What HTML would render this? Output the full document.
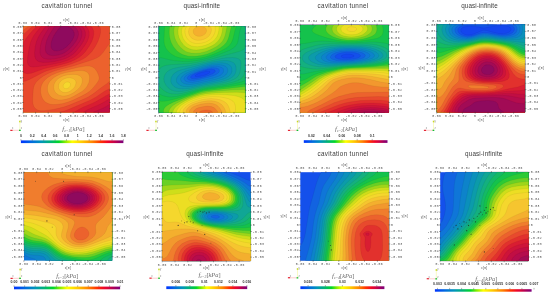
<!DOCTYPE html>
<html><head><meta charset="utf-8"><title>contour plots</title>
<style>
html,body{margin:0;padding:0;background:#fff}
body{width:550px;height:295px;overflow:hidden}
svg{display:block}
text{font-family:"Liberation Sans",sans-serif}
.ti{font-size:6.3px;fill:#3a3a3a}
.tk text{font-family:"Liberation Mono",monospace;font-size:3.1px;letter-spacing:.42px;fill:#4a4a4a}.tk .ax{font-size:2.7px;letter-spacing:0}
.tr text{font-size:2.6px;fill:#888}
.cl text{font-size:3.5px;fill:#333;font-weight:bold}
.lt{font-family:"Liberation Serif",serif;font-style:italic;font-size:6.4px;fill:#6e6e6e}
.sb{font-size:3.9px}.up{font-style:normal}
</style></head><body>
<svg width="550" height="295" viewBox="0 0 550 295">
<defs><linearGradient id="cb" x1="0" x2="1" y1="0" y2="0"><stop offset="0.000" stop-color="#0032ff"/><stop offset="0.100" stop-color="#0069e1"/><stop offset="0.200" stop-color="#0096b9"/><stop offset="0.300" stop-color="#00b969"/><stop offset="0.370" stop-color="#00d728"/><stop offset="0.430" stop-color="#82eb00"/><stop offset="0.500" stop-color="#ffff00"/><stop offset="0.600" stop-color="#ffc800"/><stop offset="0.700" stop-color="#ff8200"/><stop offset="0.780" stop-color="#ff3200"/><stop offset="0.850" stop-color="#ee052a"/><stop offset="0.890" stop-color="#d4053e"/><stop offset="0.930" stop-color="#b40055"/><stop offset="0.960" stop-color="#980064"/><stop offset="1.000" stop-color="#7d007d"/></linearGradient></defs>
<rect width="550" height="295" fill="#fff"/>
<g transform="translate(23.2 26.5) scale(.1)" stroke="#000" stroke-opacity=".16" stroke-width="3" stroke-linejoin="round">
<rect width="863" height="858" fill="#f5d72d" stroke="none"/>
<path d="M0 0l863 0 0 858-863 0zM450 555l-12 0-13 3-17 14-7 12-1 13 4 12 9 8 12 5 13-1 12-5 9-7 10-12 4-13-1-12-9-12z" fill="#f6c52f"/>
<path d="M0 0l863 0 0 858-863 0zM500 521l-25-7-12-1-25 2-25 7-25 14-13 11-10 13-6 12-4 12 0 25 3 13 7 12 10 11 13 8 12 5 25 2 13-2 25-8 24-16 24-25 7-12 9-25 1-12-3-14-6-11z" fill="#f4af2e"/>
<path d="M0 0l863 0 0 858-863 0zM575 501l-12-9-25-10-25-3-25 0-38 4-25 4-31 10-26 13-19 12-14 13-11 12-13 25-4 12-2 25 4 25 6 13 8 12 12 12 15 11 13 6 25 6 25 1 25-4 25-8 25-12 25-15 27-22 25-25 16-25 8-24 2-25-3-14-5-11z" fill="#f2982e"/>
<path d="M0 0l863 0 0 858-863 0zM653 473l-15-17-13-7-12-4-25-4-38 1-62 7-63 12-50 15-37 16-30 18-29 25-11 12-16 25-8 25-2 25 2 25 9 24 16 25 19 17 25 13 37 8 38 0 37-6 38-11 37-16 53-30 39-24 28-25 19-25 18-37 7-38-1-25-3-12z" fill="#f07d2d"/>
<path d="M0 8l11-8 852 0 0 858-863 0zM736 448l-11-16-12-14-13-9-12-6-25-7-38 0-75 12-162 39-50 16-51 22-41 25-29 25-20 25-13 24-4 13-5 25 0 37 7 37 11 25 18 25 14 12 25 13 25 7 25 2 25 0 63-8 62-17 50-19 84-40 47-25 34-24 26-25 42-50 17-25 6-12 3-13 0-12-6-25z" fill="#ec622d"/>
<path d="M0 40l49-40 814 0 0 173-25 29-40 59-22 25-14 12-19 13-43 19-200 64-156 41-40 13-61 25-44 24-34 25-27 25-11 13-15 24-8 25-4 25-6 100 3 37 7 25 7 12 11 13 16 11 12 6 25 5 38-1 87-13 63-13 50-13 62-22 138-58 37-18 54-34 71-56 61-43 27-23 0 309-863 0z" fill="#e84a2d"/>
<path d="M0 551l0-468 90-83 676 0 7 25 0 37-8 37-18 50-26 50-34 50-34 37-31 25-20 12-39 20-77 30-61 19-137 35-64 21-36 16-125 65-38 16zM863 622l0 236-503 0 53-14 50-18 212-92 50-27 88-59z" fill="#e2312d"/>
<path d="M0 457l0-294 35-51 28-37 34-38 38-37 545 0 11 12 11 25 3 13 1 25-7 37-13 37-28 50-35 50-34 37-32 25-45 25-37 16-37 13-63 17-162 39-125 44-25 6-25 1-25-7zM863 674l0 184-354 0 41-25 48-25 102-44 37-18 88-52z" fill="#d91d32"/>
<path d="M50 383l-7-22 2-50 13-87 15-62 15-38 21-37 28-37 43-50 449 0 19 25 9 25 2 12 0 25-5 25-14 37-22 38-46 62-36 37-35 25-51 24-50 18-75 18-87 16-100 15-38 3-25-3-11-4zM863 725l0 133-261 0 41-25 132-59z" fill="#ce143a"/>
<path d="M124 323l-8-25-2-37 7-62 12-50 16-37 13-25 16-25 46-62 365 0 20 25 10 25 3 12 0 25-5 25-16 37-26 40-48 60-27 26-33 23-42 21-50 17-62 14-63 8-50 1-37-6-14-5-11-8zM863 779l0 79-162 0 99-42 25-13z" fill="#c10e44"/>
<path d="M174 286l-6-25 0-25 6-49 10-38 9-25 19-37 55-87 284 0 13 12 10 13 11 25 3 25-3 24-14 38-24 37-40 50-23 25-34 26-37 20-43 16-45 10-50 6-37-1-25-5-13-6-12-9-7-8z" fill="#b50c4d"/>
<path d="M509 0l15 12 12 13 13 25 4 25-3 20-10 29-14 25-28 38-34 37-26 22-25 16-26 12-37 11-37 6-25 0-26-5-22-12-10-13-5-12-3-13 0-37 7-37 7-25 17-38 21-37 39-62z" fill="#a20b55"/>
<path d="M475 16l13 10 12 16 9 20 2 13-1 12-7 25-13 25-18 25-22 25-25 22-22 15-15 8-25 9-25 4-25-3-14-6-12-12-6-13-3-12 0-25 5-25 9-25 18-37 16-25 24-33 16-17 17-12 63 0z" fill="#8f0a5e"/>
</g>
<path d="M22.0 26.7h1.8M109.1 26.7h1.8M22.0 33.2h1.8M109.1 33.2h1.8M22.0 39.6h1.8M109.1 39.6h1.8M22.0 46.0h1.8M109.1 46.0h1.8M22.0 52.4h1.8M109.1 52.4h1.8M22.0 58.8h1.8M109.1 58.8h1.8M22.0 65.1h1.8M109.1 65.1h1.8M22.0 71.4h1.8M109.1 71.4h1.8M22.0 77.7h1.8M109.1 77.7h1.8M22.0 83.9h1.8M109.1 83.9h1.8M22.0 90.1h1.8M109.1 90.1h1.8M22.0 96.3h1.8M109.1 96.3h1.8M22.0 102.5h1.8M109.1 102.5h1.8M22.0 108.6h1.8M109.1 108.6h1.8M23.1 25.3v1.8M23.1 111.9v1.8M35.6 25.3v1.8M35.6 111.9v1.8M48.2 25.3v1.8M48.2 111.9v1.8M60.7 25.3v1.8M60.7 111.9v1.8M73.2 25.3v1.8M73.2 111.9v1.8M85.8 25.3v1.8M85.8 111.9v1.8M98.3 25.3v1.8M98.3 111.9v1.8" stroke="#333" stroke-width="0.4" fill="none"/>
<g class="tk"><text x="22.0" y="27.7" text-anchor="end">0.08</text><text x="111.7" y="27.7">0.08</text><text x="22.0" y="34.2" text-anchor="end">0.07</text><text x="111.7" y="34.2">0.07</text><text x="22.0" y="40.6" text-anchor="end">0.06</text><text x="111.7" y="40.6">0.06</text><text x="22.0" y="47.0" text-anchor="end">0.05</text><text x="111.7" y="47.0">0.05</text><text x="22.0" y="53.4" text-anchor="end">0.04</text><text x="111.7" y="53.4">0.04</text><text x="22.0" y="59.8" text-anchor="end">0.03</text><text x="111.7" y="59.8">0.03</text><text x="22.0" y="66.1" text-anchor="end">0.02</text><text x="111.7" y="66.1">0.02</text><text x="22.0" y="72.4" text-anchor="end">0.01</text><text x="111.7" y="72.4">0.01</text><text x="22.0" y="78.7" text-anchor="end">0</text><text x="111.7" y="78.7">0</text><text x="22.0" y="84.9" text-anchor="end">-0.01</text><text x="111.7" y="84.9">-0.01</text><text x="22.0" y="91.1" text-anchor="end">-0.02</text><text x="111.7" y="91.1">-0.02</text><text x="22.0" y="97.3" text-anchor="end">-0.03</text><text x="111.7" y="97.3">-0.03</text><text x="22.0" y="103.5" text-anchor="end">-0.04</text><text x="111.7" y="103.5">-0.04</text><text x="22.0" y="109.6" text-anchor="end">-0.05</text><text x="111.7" y="109.6">-0.05</text><text x="23.1" y="23.7" text-anchor="middle">0.06</text><text x="23.1" y="116.9" text-anchor="middle">0.06</text><text x="35.6" y="23.7" text-anchor="middle">0.04</text><text x="35.6" y="116.9" text-anchor="middle">0.04</text><text x="48.2" y="23.7" text-anchor="middle">0.02</text><text x="48.2" y="116.9" text-anchor="middle">0.02</text><text x="60.7" y="23.7" text-anchor="middle">0</text><text x="60.7" y="116.9" text-anchor="middle">0</text><text x="73.2" y="23.7" text-anchor="middle">-0.02</text><text x="73.2" y="116.9" text-anchor="middle">-0.02</text><text x="85.8" y="23.7" text-anchor="middle">-0.04</text><text x="85.8" y="116.9" text-anchor="middle">-0.04</text><text x="98.3" y="23.7" text-anchor="middle">-0.06</text><text x="98.3" y="116.9" text-anchor="middle">-0.06</text><text x="66.3" y="20.6" text-anchor="middle" class="ax">x[m]</text><text x="66.3" y="120.7" text-anchor="middle" class="ax">x[m]</text><text x="9.5" y="70.3" text-anchor="end" class="ax">y[m]</text><text x="125.0" y="70.3" class="ax">y[m]</text></g>
<text class="ti" x="41.5" y="8.4" textLength="51.0" lengthAdjust="spacing">cavitation tunnel</text>
<g><path d="M19.9 130.3h-8" stroke="#ff9a9a" stroke-width="0.5"/><path d="M19.9 130.3v-8.5" stroke="#f4f48a" stroke-width="0.5"/>
<rect x="10.3" y="129.8" width="2.2" height="1.1" fill="#e01020"/>
<rect x="19.1" y="120.7" width="1.5" height="1.6" fill="#c8d820"/>
<rect x="19.0" y="129.7" width="1.7" height="1.3" fill="#10c030"/>
<g class="tr"><text x="12.1" y="129.4">x</text><text x="20.8" y="121.7">y</text><text x="20.8" y="129.1">z</text></g></g>
<rect x="20.9" y="140.4" width="102.5" height="2.7" fill="url(#cb)"/>
<path d="M20.9 139.1v1.6M32.3 139.1v1.6M43.7 139.1v1.6M55.1 139.1v1.6M66.5 139.1v1.6M77.8 139.1v1.6M89.2 139.1v1.6M100.6 139.1v1.6M112.0 139.1v1.6M123.4 139.1v1.6" stroke="#444" stroke-width="0.4" fill="none"/>
<g class="cl"><text x="20.9" y="136.6" text-anchor="middle">0</text><text x="32.3" y="136.6" text-anchor="middle">0.2</text><text x="43.7" y="136.6" text-anchor="middle">0.4</text><text x="55.1" y="136.6" text-anchor="middle">0.6</text><text x="66.5" y="136.6" text-anchor="middle">0.8</text><text x="77.8" y="136.6" text-anchor="middle">1</text><text x="89.2" y="136.6" text-anchor="middle">1.2</text><text x="100.6" y="136.6" text-anchor="middle">1.4</text><text x="112.0" y="136.6" text-anchor="middle">1.6</text><text x="123.4" y="136.6" text-anchor="middle">1.8</text></g>
<text class="lt" x="73.4" y="131.2" text-anchor="middle"><tspan font-size="6.9">f</tspan><tspan class="sb" dy="1.2">z=1</tspan><tspan dy="-1.2" class="up">[</tspan>kPa<tspan class="up">]</tspan></text>
<g transform="translate(158.9 26.5) scale(.1)" stroke="#000" stroke-opacity=".16" stroke-width="3" stroke-linejoin="round">
<rect width="863" height="859" fill="#1446ee" stroke="none"/>
<path d="M0 0l863 0 0 859-863 0zM508 448l-8-1-25 0-55 14-32 12-21 13-6 12 14 3 25-1 60-14 31-13 19-12z" fill="#1450eb"/>
<path d="M0 0l863 0 0 859-863 0zM560 436l-10-5-25-3-37 3-38 9-50 16-43 17-22 13-15 12-3 12 8 7 13 4 25 0 37-5 50-12 50-16 36-15 19-12 9-13z" fill="#1263e1"/>
<path d="M0 0l863 0 0 859-863 0zM605 436l-9-13-21-8-25-3-25 1-25 4-50 12-87 30-50 24-21 15-8 12 0 13 16 11 13 4 37 1 50-8 100-25 50-16 33-17 14-12 7-13z" fill="#0f76d8"/>
<path d="M0 0l863 0 0 859-863 0zM647 436l-5-13-12-12-30-11-25-3-25 0-50 7-37 10-50 15-63 22-37 16-33 19-16 12-9 12-4 13 4 12 8 8 12 7 25 7 38 2 62-11 138-32 56-18 23-12 15-13 9-12 5-13z" fill="#0d83ca"/>
<path d="M0 0l863 0 0 859-863 0zM686 423l-7-12-13-13-16-7-25-7-25-3-37 1-38 4-37 8-38 10-75 24-62 23-38 16-25 16-17 15-10 12-5 13-1 12 8 16 10 9 15 9 25 8 38 4 50-7 187-41 39-10 36-13 24-12 17-12 11-13 7-12 4-13 1-12z" fill="#0b90bb"/>
<path d="M0 0l863 0 0 859-863 0zM729 423l-3-12-7-13-12-12-19-11-25-8-38-4-37 1-38 3-50 10-62 16-137 43-37 12-27 13-24 15-23 22-8 12-5 13-2 12 1 13 5 12 10 13 22 15 12 5 25 7 38 2 50-6 112-26 125-26 38-9 39-12 27-13 18-12 14-12 9-13 6-12 3-13z" fill="#0c9baa"/>
<path d="M0 0l863 0 0 859-863 0zM769 398l-5-12-7-13-13-12-26-12-30-7-38-1-50 4-62 9-50 11-250 64-25 8-27 11-23 14-14 11-11 13-14 24-4 25 0 13 3 12 6 13 8 12 13 13 13 9 12 6 25 8 38 3 37-2 38-5 137-33 175-34 50-14 25-10 28-16 15-12 11-12 13-25 5-25-1-25z" fill="#10a695"/>
<path d="M0 0l863 0 0 859-863 0zM818 349l-6-13-12-10-25-10-37-5-63 2-50 8-87 18-213 49-125 20-37 8-27 7-28 13-19 12-14 13-12 17-9 20-4 25 3 25 4 12 13 25 21 25 14 12 21 13 24 9 25 4 25 1 38-2 50-9 150-38 175-32 62-13 50-16 35-16 18-13 13-12 8-12 11-25 4-25 7-63z" fill="#14b07f"/>
<path d="M0 430l0-430 863 0 0 50-2 25 2 32 0 107-10 10-20 13-29 12-40 12-101 26-130 37-145 33-50 9-50 7-163 8-50 7-25 7-25 12-12 9zM863 430l0 429-863 0 0-269 16 20 27 25 32 21 25 10 25 7 38 2 25-1 37-5 75-18 138-39 234-39 53-13 41-12 30-13 22-12 20-18 12-19 4-13z" fill="#14b965"/>
<path d="M0 310l0-248 5-37 0-25 822 0-12 25-7 25-17 99-9 25-18 25-26 21-29 17-121 49-76 25-74 19-75 13-63 6-62 0-75-6-50-9-88-21zM863 541l0 318-863 0 0-186 38 18 37 10 25 3 25 0 50-5 63-15 150-46 50-13 50-9 150-22 75-13 91-21z" fill="#14c24c"/>
<path d="M57 187l-5-25-1-38 5-124 719 0-14 37-17 75-8 25-11 25-18 25-30 25-19 12-47 25-73 32-75 24-63 13-75 7-62-3-63-11-34-12-16-8-27-17-28-25-20-25-7-12zM863 574l0 285-863 0 0-116 25 5 25-1 38-5 50-11 75-21 187-63 50-12 50-8 200-26z" fill="#2cca35"/>
<path d="M109 112l-4-25-2-37 5-50 618 0-8 25-18 75-8 24-12 25-8 13-23 25-36 27-64 35-63 25-61 16-62 8-50-1-25-3-32-8-18-6-25-13-25-18-14-12-30-38-20-37-9-25zM863 601l0 258-816 0-1-12 1-13 5-12 9-13 12-12 27-18 38-20 124-49 126-45 50-14 50-9z" fill="#6ad025"/>
<path d="M153 87l-3-25-1-25 7-37 525 0-15 75-12 37-13 25-8 12-20 23-35 27-53 29-52 21-60 15-50 4-38-2-37-9-19-8-19-11-31-26-31-38-20-37-10-25zM863 629l0 230-764 0 1-12 4-13 7-12 9-13 18-16 31-21 48-25 58-27 59-23 75-25 54-12 75-10 187-15z" fill="#9ed61a"/>
<path d="M192 75l-1-38 4-25 5-12 439 0-6 50-9 37-18 37-19 25-28 25-21 14-25 13-50 19-50 11-38 4-37-3-38-11-25-13-25-21-12-14-18-24-18-37zM863 664l0 195-723 0 2-12 4-13 7-12 23-25 35-25 43-25 46-22 50-19 66-21 47-11 37-5 138-9 137-2 49 2z" fill="#cede1a"/>
<path d="M227 62l0-25 2-12 10-25 362 0-1 37-9 38-10 25-18 26-25 24-38 23-37 15-38 9-37 5-38-2-25-6-12-5-24-15-26-25-17-25-11-24zM176 859l1-12 5-13 17-25 28-25 39-25 47-23 37-15 63-20 50-11 62-7 75-2 88 3 62 7 38 8 37 14 15 9 13 13 10 17 0 76-2 19 2 12z" fill="#ecde23"/>
<path d="M261 62l0-25 3-12 12-25 285 0 2 12 1 25-5 25-11 25-17 25-18 17-25 17-25 11-38 10-37 3-25-1-25-6-25-13-16-13-19-25-12-25zM209 859l1-12 4-13 17-25 28-25 29-18 38-19 62-22 50-13 50-8 50-3 62 2 46 7 49 12 28 13 17 12 11 12 7 13 7 25 2 62z" fill="#f5d72d"/>
<path d="M296 50l5-25 7-13 11-12 196 0 6 12 3 13 1 12-5 25-14 25-11 13-15 12-22 12-20 8-25 5-25 1-25-4-23-10-15-10-12-14-8-13-5-12zM715 859l-474 0 0-12 4-13 7-12 10-13 30-25 33-18 49-19 51-14 50-9 50-3 50 4 38 8 34 14 19 12 14 13 16 25 9 25z" fill="#f6c52f"/>
<path d="M343 50l1-13 6-11 13-12 12-7 26-7 29 0 20 6 13 6 10 13 3 12-1 13-5 12-9 13-11 8-12 8-25 7-25-1-24-10-14-13-5-12zM272 847l4-13 7-12 12-13 15-12 15-10 25-11 49-17 51-11 38-5 37 0 25 3 25 6 21 7 20 13 15 12 19 25 12 25 9 25-399 0z" fill="#f4af2e"/>
<path d="M305 859l1-12 4-13 10-12 15-13 22-12 31-11 37-10 38-6 37-3 38 4 25 8 12 6 16 12 12 12 17 25 12 25z" fill="#f2982e"/>
<path d="M591 859l-246 0 3-12 9-13 18-13 25-10 25-6 38-7 25-2 37 5 25 10 14 11 11 12z" fill="#f07d2d"/>
<path d="M402 859l11-9 12-6 25-7 25-2 25 2 13 4 12 6 14 12z" fill="#ec622d"/>
</g>
<path d="M157.7 26.7h1.8M244.8 26.7h1.8M157.7 33.2h1.8M244.8 33.2h1.8M157.7 39.6h1.8M244.8 39.6h1.8M157.7 46.1h1.8M244.8 46.1h1.8M157.7 52.5h1.8M244.8 52.5h1.8M157.7 58.8h1.8M244.8 58.8h1.8M157.7 65.2h1.8M244.8 65.2h1.8M157.7 71.5h1.8M244.8 71.5h1.8M157.7 77.7h1.8M244.8 77.7h1.8M157.7 84.0h1.8M244.8 84.0h1.8M157.7 90.2h1.8M244.8 90.2h1.8M157.7 96.4h1.8M244.8 96.4h1.8M157.7 102.6h1.8M244.8 102.6h1.8M157.7 108.7h1.8M244.8 108.7h1.8M158.8 25.3v1.8M158.8 112.0v1.8M171.3 25.3v1.8M171.3 112.0v1.8M183.9 25.3v1.8M183.9 112.0v1.8M196.4 25.3v1.8M196.4 112.0v1.8M208.9 25.3v1.8M208.9 112.0v1.8M221.5 25.3v1.8M221.5 112.0v1.8M234.0 25.3v1.8M234.0 112.0v1.8" stroke="#333" stroke-width="0.4" fill="none"/>
<g class="tk"><text x="157.7" y="27.7" text-anchor="end">0.08</text><text x="247.4" y="27.7">0.08</text><text x="157.7" y="34.2" text-anchor="end">0.07</text><text x="247.4" y="34.2">0.07</text><text x="157.7" y="40.6" text-anchor="end">0.06</text><text x="247.4" y="40.6">0.06</text><text x="157.7" y="47.1" text-anchor="end">0.05</text><text x="247.4" y="47.1">0.05</text><text x="157.7" y="53.5" text-anchor="end">0.04</text><text x="247.4" y="53.5">0.04</text><text x="157.7" y="59.8" text-anchor="end">0.03</text><text x="247.4" y="59.8">0.03</text><text x="157.7" y="66.2" text-anchor="end">0.02</text><text x="247.4" y="66.2">0.02</text><text x="157.7" y="72.5" text-anchor="end">0.01</text><text x="247.4" y="72.5">0.01</text><text x="157.7" y="78.7" text-anchor="end">0</text><text x="247.4" y="78.7">0</text><text x="157.7" y="85.0" text-anchor="end">-0.01</text><text x="247.4" y="85.0">-0.01</text><text x="157.7" y="91.2" text-anchor="end">-0.02</text><text x="247.4" y="91.2">-0.02</text><text x="157.7" y="97.4" text-anchor="end">-0.03</text><text x="247.4" y="97.4">-0.03</text><text x="157.7" y="103.6" text-anchor="end">-0.04</text><text x="247.4" y="103.6">-0.04</text><text x="157.7" y="109.7" text-anchor="end">-0.05</text><text x="247.4" y="109.7">-0.05</text><text x="158.8" y="23.7" text-anchor="middle">0.06</text><text x="158.8" y="117.0" text-anchor="middle">0.06</text><text x="171.3" y="23.7" text-anchor="middle">0.04</text><text x="171.3" y="117.0" text-anchor="middle">0.04</text><text x="183.9" y="23.7" text-anchor="middle">0.02</text><text x="183.9" y="117.0" text-anchor="middle">0.02</text><text x="196.4" y="23.7" text-anchor="middle">0</text><text x="196.4" y="117.0" text-anchor="middle">0</text><text x="208.9" y="23.7" text-anchor="middle">-0.02</text><text x="208.9" y="117.0" text-anchor="middle">-0.02</text><text x="221.5" y="23.7" text-anchor="middle">-0.04</text><text x="221.5" y="117.0" text-anchor="middle">-0.04</text><text x="234.0" y="23.7" text-anchor="middle">-0.06</text><text x="234.0" y="117.0" text-anchor="middle">-0.06</text><text x="202.0" y="20.6" text-anchor="middle" class="ax">x[m]</text><text x="202.0" y="120.8" text-anchor="middle" class="ax">x[m]</text><text x="147.1" y="70.4" text-anchor="end" class="ax">y[m]</text><text x="259.3" y="70.4" class="ax">y[m]</text></g>
<text class="ti" x="183.6" y="8.2" textLength="36.4" lengthAdjust="spacing">quasi-infinite</text>
<g><path d="M156.0 130.3h-8" stroke="#ff9a9a" stroke-width="0.5"/><path d="M156.0 130.3v-8.5" stroke="#f4f48a" stroke-width="0.5"/>
<rect x="146.4" y="129.8" width="2.2" height="1.1" fill="#e01020"/>
<rect x="155.2" y="120.7" width="1.5" height="1.6" fill="#c8d820"/>
<rect x="155.2" y="129.7" width="1.7" height="1.3" fill="#10c030"/>
<g class="tr"><text x="148.2" y="129.4">x</text><text x="156.9" y="121.7">y</text><text x="156.9" y="129.1">z</text></g></g>
<g transform="translate(300.2 24.9) scale(.1)" stroke="#000" stroke-opacity=".16" stroke-width="3" stroke-linejoin="round">
<rect width="884" height="875" fill="#1446ee" stroke="none"/>
<path d="M0 0l884 0 0 875-884 0zM537 304l-25-8-12-3-39-1-25 6-20 6-8 13 15 9 11 4 27 1 35-1 41-13z" fill="#1450eb"/>
<path d="M0 0l884 0 0 875-884 0zM348 317l6 13 31 12 38 5 51 0 54-5 52-12 20-13 2-13-14-12-37-13-39-5-51 0-44 5-41 13-20 12z" fill="#1263e1"/>
<path d="M0 0l884 0 0 875-884 0zM303 317l1 13 14 12 28 10 13 3 38 4 64 0 64-4 71-13 36-12 16-13 3-13-9-12-27-15-26-7-25-5-39-5-64 0-60 6-47 13-27 13-16 12z" fill="#0f76d8"/>
<path d="M0 0l884 0 0 875-884 0zM259 330l8 12 21 13 19 6 26 6 64 3 83-2 97-10 25-4 46-12 31-12 15-13 4-13-8-12-17-13-30-13-28-7-38-7-39-4-51-1-39 1-38 4-38 6-33 8-34 13-22 13-15 12-8 13z" fill="#0d83ca"/>
<path d="M0 0l884 0 0 875-884 0zM211 330l5 12 15 13 27 13 24 6 25 4 39 3 102-3 116-8 88-15 46-13 28-12 14-13 3-13-6-12-15-13-24-13-45-14-38-8-51-6-64-2-52 0-51 5-38 5-33 8-41 12-28 13-20 13-15 12-9 13z" fill="#0b90bb"/>
<path d="M0 0l884 0 0 875-884 0zM151 330l5 12 12 13 21 13 34 12 33 8 26 3 64 1 205-12 64-8 51-8 40-9 41-13 24-12 12-13 3-13-5-12-12-13-19-13-29-12-42-13-51-9-51-5-65-2-64 0-51 3-51 7-51 10-39 11-38 16-37 20-16 12-11 13z" fill="#0c9baa"/>
<path d="M0 0l884 0 0 875-884 0zM83 330l4 12 10 13 18 14 39 17 25 8 39 7 38 4 51 0 270-20 64-7 65-10 54-13 34-13 21-12 10-13 3-13-4-12-9-13-16-13-23-12-20-9-51-15-52-9-51-5-77-2-89 0-64 4-65 7-51 10-51 15-51 20-42 22-16 12-10 13z" fill="#10a695"/>
<path d="M0 0l884 0 0 875-884 0zM21 330l2 12 3 8 11 18 17 12 36 18 38 11 39 7 38 4 51 0 64-5 116-12 179-13 77-9 51-9 64-16 32-14 17-12 8-13 3-13-2-12-6-13-11-13-18-12-24-13-24-10-26-8-39-9-51-8-51-3-115-1-116 1-77 5-64 9-64 15-64 20-51 22-25 18-10 12-3 8z" fill="#14b07f"/>
<path d="M0 0l884 0 0 251-26-17-25-12-26-9-51-14-39-6-64-4-166 1-180-1-76 4-39 6-38 8-103 29-25 9-26 15zM884 340l0 535-884 0 0-461 51 14 64 10 52 2 64-3 205-26 192-13 115-14 51-9 39-10 27-10z" fill="#14b965"/>
<path d="M0 0l884 0 0 191-51-11-77-8-64-1-137 7-81 0-64-2-141-12-51-2-64 4-103 19-51 4zM884 366l0 509-884 0 0-385 13 1 25-1 96-21 276-47 64-7 179-11 90-9 90-14z" fill="#14c24c"/>
<path d="M119 51l6-13 10-13 29-25 656 0 7 25 3 38-5 26-6 12-11 13-20 13-19 7-52 11-102 14-64 5-64 1-64-3-51-7-72-16-45-12-74-26-29-12-21-13-11-13zM884 386l0 489-884 0 0-315 13-1 25-8 26-12 64-36 51-20 77-20 116-25 38-7 51-7 192-11 103-8 77-9z" fill="#2cca35"/>
<path d="M256 38l3-13 6-12 10-13 482 0 6 13 4 25-3 25-8 18-5 8-14 12-22 13-33 13-54 13-64 9-52 3-51-2-51-6-38-10-39-14-35-19-16-12-12-13-9-13-4-12zM884 404l0 471-884 0 0-261 74-43 67-44 26-15 38-17 64-21 103-26 64-12 64-6 230-12z" fill="#6ad025"/>
<path d="M319 38l2-13 6-12 10-13 368 0 8 13 5 12 1 13-1 13-5 12-8 13-13 13-26 16-25 11-39 11-38 6-52 4-38-2-38-5-26-6-28-10-23-13-16-12-12-13-7-13-4-12zM884 423l0 452-884 0 0-225 101-67 72-50 32-19 45-19 57-19 77-21 64-12 77-6z" fill="#9ed61a"/>
<path d="M364 38l3-13 7-12 11-13 267 0 13 13 7 12 2 13-2 13-7 12-12 14-25 18-26 11-31 8-33 5-26 1-25-1-34-5-17-4-26-10-18-11-14-13-8-13-5-12zM884 442l0 433-884 0 0-198 102-67 90-66 51-30 48-19 42-14 77-20 51-9 51-5 65-2 230-5z" fill="#cede1a"/>
<path d="M408 38l3-13 10-12 21-13 143 0 26 13 12 12 4 13-2 13-8 12-14 13-26 13-26 7-39 3-38-4-23-6-23-13-13-13-6-12zM884 463l0 412-884 0 0-175 38-21 52-33 51-37 82-64 44-25 40-17 66-21 50-13 64-9 77-4 192-1 77 3z" fill="#ecde23"/>
<path d="M468 38l12-13 20-5 12-1 26 3 13 3 13 13-3 13-10 8-13 6-26 2-25-5-17-11zM884 487l0 388-884 0 0-153 49-25 53-32 60-44 76-63 40-25 26-13 55-20 66-18 49-8 50-5 91-1 141 5 77 6z" fill="#f5d72d"/>
<path d="M884 515l0 360-884 0 0-132 64-27 51-30 64-47 93-81 23-14 38-19 55-18 49-12 50-8 64-4 77 2 115 7 64 8z" fill="#f6c52f"/>
<path d="M884 547l0 328-884 0 0-109 38-12 39-15 32-16 32-19 38-27 37-30 78-76 18-13 21-12 26-10 52-16 61-13 53-5 52 0 76 5 64 8z" fill="#f4af2e"/>
<path d="M884 583l0 292-884 0 0-84 51-12 39-12 41-19 45-25 42-29 42-35 22-23 33-40 14-13 18-12 27-13 43-13 64-12 44-5 52 1 47 4 72 12 111 27z" fill="#f2982e"/>
<path d="M884 624l0 251-884 0 0-51 38-4 39-10 51-18 41-18 47-26 102-63 36-26 42-38 14-8 41-17 46-13 28-4 26-1 26 1 33 4 82 20 51 10 64 7z" fill="#f07d2d"/>
<path d="M884 671l0 204-814 0 12-13 20-13 108-50 110-56 64-26 77-22 64-13 52-6z" fill="#ec622d"/>
<path d="M884 720l0 155-750 0 45-25 167-74 64-21 64-16 77-12 77-5 154-5z" fill="#e84a2d"/>
<path d="M884 762l0 113-690 0 190-75 64-19 64-13 90-11 103-4 102 1z" fill="#e2312d"/>
<path d="M884 795l0 80-611 0 40-13 71-28 52-17 64-16 64-11 77-7 89-2 77 4z" fill="#d91d32"/>
<path d="M364 875l63-25 60-19 64-13 64-9 64-3 77 1 64 5 64 10 0 53z" fill="#ce143a"/>
<path d="M435 875l52-18 51-13 64-11 51-5 52-1 64 2 51 5 64 11 0 30z" fill="#c10e44"/>
<path d="M505 875l33-9 51-10 39-5 51-4 51 0 52 3 51 6 51 8 0 11z" fill="#b50c4d"/>
<path d="M591 875l62-8 64-2 65 2 65 8z" fill="#a20b55"/>
</g>
<path d="M299.0 25.1h1.8M388.2 25.1h1.8M299.0 31.7h1.8M388.2 31.7h1.8M299.0 38.3h1.8M388.2 38.3h1.8M299.0 44.8h1.8M388.2 44.8h1.8M299.0 51.3h1.8M388.2 51.3h1.8M299.0 57.8h1.8M388.2 57.8h1.8M299.0 64.3h1.8M388.2 64.3h1.8M299.0 70.7h1.8M388.2 70.7h1.8M299.0 77.1h1.8M388.2 77.1h1.8M299.0 83.5h1.8M388.2 83.5h1.8M299.0 89.8h1.8M388.2 89.8h1.8M299.0 96.1h1.8M388.2 96.1h1.8M299.0 102.4h1.8M388.2 102.4h1.8M299.0 108.6h1.8M388.2 108.6h1.8M300.1 23.7v1.8M300.1 112.0v1.8M312.9 23.7v1.8M312.9 112.0v1.8M325.8 23.7v1.8M325.8 112.0v1.8M338.6 23.7v1.8M338.6 112.0v1.8M351.4 23.7v1.8M351.4 112.0v1.8M364.3 23.7v1.8M364.3 112.0v1.8M377.1 23.7v1.8M377.1 112.0v1.8" stroke="#333" stroke-width="0.4" fill="none"/>
<g class="tk"><text x="299.0" y="26.1" text-anchor="end">0.08</text><text x="390.8" y="26.1">0.08</text><text x="299.0" y="32.7" text-anchor="end">0.07</text><text x="390.8" y="32.7">0.07</text><text x="299.0" y="39.3" text-anchor="end">0.06</text><text x="390.8" y="39.3">0.06</text><text x="299.0" y="45.8" text-anchor="end">0.05</text><text x="390.8" y="45.8">0.05</text><text x="299.0" y="52.3" text-anchor="end">0.04</text><text x="390.8" y="52.3">0.04</text><text x="299.0" y="58.8" text-anchor="end">0.03</text><text x="390.8" y="58.8">0.03</text><text x="299.0" y="65.3" text-anchor="end">0.02</text><text x="390.8" y="65.3">0.02</text><text x="299.0" y="71.7" text-anchor="end">0.01</text><text x="390.8" y="71.7">0.01</text><text x="299.0" y="78.1" text-anchor="end">0</text><text x="390.8" y="78.1">0</text><text x="299.0" y="84.5" text-anchor="end">-0.01</text><text x="390.8" y="84.5">-0.01</text><text x="299.0" y="90.8" text-anchor="end">-0.02</text><text x="390.8" y="90.8">-0.02</text><text x="299.0" y="97.1" text-anchor="end">-0.03</text><text x="390.8" y="97.1">-0.03</text><text x="299.0" y="103.4" text-anchor="end">-0.04</text><text x="390.8" y="103.4">-0.04</text><text x="299.0" y="109.6" text-anchor="end">-0.05</text><text x="390.8" y="109.6">-0.05</text><text x="300.1" y="22.1" text-anchor="middle">0.06</text><text x="300.1" y="117.0" text-anchor="middle">0.06</text><text x="312.9" y="22.1" text-anchor="middle">0.04</text><text x="312.9" y="117.0" text-anchor="middle">0.04</text><text x="325.8" y="22.1" text-anchor="middle">0.02</text><text x="325.8" y="117.0" text-anchor="middle">0.02</text><text x="338.6" y="22.1" text-anchor="middle">0</text><text x="338.6" y="117.0" text-anchor="middle">0</text><text x="351.4" y="22.1" text-anchor="middle">-0.02</text><text x="351.4" y="117.0" text-anchor="middle">-0.02</text><text x="364.3" y="22.1" text-anchor="middle">-0.04</text><text x="364.3" y="117.0" text-anchor="middle">-0.04</text><text x="377.1" y="22.1" text-anchor="middle">-0.06</text><text x="377.1" y="117.0" text-anchor="middle">-0.06</text><text x="344.2" y="19.0" text-anchor="middle" class="ax">x[m]</text><text x="344.2" y="120.8" text-anchor="middle" class="ax">x[m]</text><text x="287.1" y="69.6" text-anchor="end" class="ax">y[m]</text><text x="401.3" y="69.6" class="ax">y[m]</text></g>
<text class="ti" x="317.6" y="8.2" textLength="50.6" lengthAdjust="spacing">cavitation tunnel</text>
<g><path d="M297.5 130.3h-8" stroke="#ff9a9a" stroke-width="0.5"/><path d="M297.5 130.3v-8.5" stroke="#f4f48a" stroke-width="0.5"/>
<rect x="287.9" y="129.8" width="2.2" height="1.1" fill="#e01020"/>
<rect x="296.8" y="120.7" width="1.5" height="1.6" fill="#c8d820"/>
<rect x="296.6" y="129.7" width="1.7" height="1.3" fill="#10c030"/>
<g class="tr"><text x="289.7" y="129.4">x</text><text x="298.4" y="121.7">y</text><text x="298.4" y="129.1">z</text></g></g>
<rect x="303.8" y="140.2" width="83.7" height="2.7" fill="url(#cb)"/>
<path d="M311.4 138.9v1.6M326.7 138.9v1.6M341.9 138.9v1.6M357.2 138.9v1.6M372.2 138.9v1.6" stroke="#444" stroke-width="0.4" fill="none"/>
<g class="cl"><text x="311.4" y="137.0" text-anchor="middle">0.02</text><text x="326.7" y="137.0" text-anchor="middle">0.04</text><text x="341.9" y="137.0" text-anchor="middle">0.06</text><text x="357.2" y="137.0" text-anchor="middle">0.08</text><text x="372.2" y="137.0" text-anchor="middle">0.1</text></g>
<text class="lt" x="346.1" y="131.2" text-anchor="middle"><tspan font-size="6.9">f</tspan><tspan class="sb" dy="1.2">z=2</tspan><tspan dy="-1.2" class="up">[</tspan>kPa<tspan class="up">]</tspan></text>
<g transform="translate(436.9 24.6) scale(.1)" stroke="#000" stroke-opacity=".16" stroke-width="3" stroke-linejoin="round">
<rect width="881" height="877" fill="#1446ee" stroke="none"/>
<path d="M0 0l881 0 0 877-881 0zM742 51l-1-13-13-14-30-11-47-4-68 4-111 21-25-2-23-7-54-8-38-2-26 2-41 8-19 13-7 13 0 13 7 12 14 13 21 9 12 4 26 2 26-3 25-7 77-33 13-4 12-1 26 3 60 17 55 12 38 3 26-1 25-6 19-8 15-12z" fill="#1450eb"/>
<path d="M0 0l600 0-128 11-38 0-89-5-39 1-38 3-25 7-17 8-12 13-5 13 1 13 5 12 11 13 17 13 38 12 25 2 39-3 38-10 51-17 38-5 39 2 115 20 38 2 38-3 26-7 14-6 18-13 10-12 4-13 0-13-6-13-15-12-25-9-27-4 180 0 0 877-881 0z" fill="#1263e1"/>
<path d="M0 0l267 0-24 3-26 7-13 6-12 9-9 13-3 13 1 13 4 12 9 13 14 13 22 12 38 11 38 3 39-4 89-24 38-5 39 2 102 15 38 4 38 0 39-4 32-10 19-11 13-15 7-12 3-13 0-13-3-13-8-12-20-13 110 0 0 877-881 0z" fill="#0f76d8"/>
<path d="M0 0l198 0-26 13-13 12-7 13-2 13 1 13 4 12 7 13 12 13 16 12 27 13 38 9 39 3 51-5 89-22 38-5 51 3 90 12 51 5 51 0 38-5 27-8 23-12 12-13 8-13 4-12 3-26-2-13-4-12-10-13 67 0 0 877-881 0z" fill="#0d83ca"/>
<path d="M0 0l152 0-17 13-10 12-4 13-2 13 1 13 4 12 6 13 9 13 14 12 19 13 31 13 40 8 38 1 51-4 102-23 38-4 51 2 115 15 51 3 64-1 39-6 14-4 24-13 12-12 7-13 4-13 4-25-1-26-6-25 31 0 0 877-881 0z" fill="#0b90bb"/>
<path d="M0 0l110 0-12 13-7 12-4 13-1 13 5 25 13 26 11 12 13 12 22 14 29 11 38 7 38 2 51-3 39-5 89-21 38-3 51 2 166 18 64 3 51-1 26-3 25-8 17-12 9-18 0 768-881 0z" fill="#0c9baa"/>
<path d="M0 0l69 0-10 13-5 12-4 26 4 25 11 26 21 25 16 14 26 14 38 12 51 5 64-2 51-7 102-22 51-4 64 4 332 40 0 696-881 0z" fill="#10a695"/>
<path d="M0 0l22 0-7 13-5 12-3 26 2 25 4 13 13 25 23 26 15 13 25 14 39 13 25 5 26 2 51-2 89-12 115-24 38-3 39 0 89 10 153 22 53 13 75 25 0 661-881 0z" fill="#14b07f"/>
<path d="M0 161l38 22 39 14 38 6 38 2 51-4 51-7 192-38 38-2 51 3 128 16 77 15 49 15 65 31 26 9 0 634-881 0z" fill="#14b965"/>
<path d="M881 265l0 612-881 0 0-652 38 6 26 2 64-5 89-15 204-45 39-5 51 0 51 4 64 9 63 11 39 9 51 19 64 36 25 11z" fill="#14c24c"/>
<path d="M0 281l26 0 25-5 204-60 128-32 51-10 51-4 51 3 64 7 64 11 50 12 27 10 25 12 77 47 18 8 20 5 0 592-881 0z" fill="#2cca35"/>
<path d="M0 329l26-4 25-9 115-54 52-21 63-21 115-31 38-7 38-3 51 1 52 5 63 10 51 12 29 9 27 13 22 12 50 36 26 15 25 9 13 2 0 574-881 0z" fill="#6ad025"/>
<path d="M0 369l26-8 25-12 120-69 82-39 53-19 64-18 51-12 39-5 51 0 64 6 63 10 48 13 32 13 24 12 62 47 26 17 25 11 26 4 0 557-881 0z" fill="#9ed61a"/>
<path d="M0 405l64-33 120-80 59-32 40-19 33-12 80-23 38-8 38-3 39 0 38 3 51 7 51 11 38 12 26 13 26 16 51 41 28 20 23 11 12 4 26 4 0 540-881 0z" fill="#cede1a"/>
<path d="M881 353l0 524-881 0 0-439 77-46 100-74 58-38 48-26 29-13 34-12 50-14 38-8 38-4 39 0 38 3 77 13 35 10 28 11 25 14 18 13 60 50 25 18 17 8 21 7z" fill="#ecde23"/>
<path d="M0 470l51-32 38-27 100-81 53-38 39-23 25-13 52-21 38-11 38-8 26-3 38-2 51 4 38 5 40 9 38 12 26 13 19 13 74 63 33 23 26 11 12 3 26 3 0 507-881 0z" fill="#f5d72d"/>
<path d="M0 504l38-23 39-28 123-110 49-38 45-29 51-25 25-10 44-12 33-6 38-3 38 1 52 6 38 8 38 13 26 12 29 20 60 54 38 29 26 14 13 4 25 5 13 0 0 491-881 0z" fill="#f6c52f"/>
<path d="M0 548l51-32 38-31 97-104 55-51 51-38 44-25 29-13 39-13 30-6 38-5 39 0 51 5 38 7 37 12 27 13 25 16 26 22 51 49 38 28 13 7 26 10 25 4 13 1 0 473-881 0z" fill="#f4af2e"/>
<path d="M881 422l0 455-881 0 0-237 13 6 13 0 17-10 10-13 25-51 50-65 36-62 27-38 34-38 40-39 33-25 40-25 26-13 34-13 36-9 26-4 38-2 38 2 39 6 25 6 38 14 39 23 25 22 64 62 38 27 26 13 13 4 25 4z" fill="#f2982e"/>
<path d="M881 443l0 434-881 0 0-157 13 8 13 1 12-7 26-26 25-35 36-64 41-53 9-23 16-63 12-26 16-25 31-38 40-39 32-25 44-25 30-13 25-8 26-5 25-3 26-1 38 2 26 4 38 9 38 16 36 24 79 78 39 31 25 15 26 10 12 3z" fill="#f07d2d"/>
<path d="M881 468l0 409-881 0 4-13 34-40 13-19 37-68 61-101 17-21 35-30 12-13 5-13 2-12 0-64 3-25 8-26 14-25 30-38 39-39 34-25 35-19 26-11 25-7 51-7 26 0 38 4 26 5 25 8 31 14 33 23 30 28 59 63 39 33 25 15 26 10 12 3zM314 610l1 13 31 13 37 3 64 1 61-4 13-13-23-5-68-8-60-4-38 0z" fill="#ec622d"/>
<path d="M36 877l30-38 49-89 38-56 26-34 13-11 12-8 13-5 13-1 25 3 46 10 44 5 64 3 76 0 69-8 36-12 10-13-13-13-25-6-39-5-114-8-90-16-25-8-13-8-13-13-11-25-7-38 2-25 2-13 10-26 25-38 35-38 34-27 38-21 25-10 26-7 25-4 26-1 51 4 26 6 25 9 26 13 38 29 34 35 68 78 26 23 12 9 26 13 25 6 26 2 0 377z" fill="#e84a2d"/>
<path d="M66 877l23-33 30-56 24-38 23-30 26-27 12-11 13-8 13-6 25-4 192 4 51-1 51-4 26-4 42-11 30-12 17-13 2-13-21-13-58-8-127-6-64-8-38-9-22-7-25-12-13-13-9-13-5-13-6-25 1-25 2-13 9-26 23-38 22-25 35-30 39-22 38-12 25-5 26-1 25 1 26 3 26 7 25 10 19 11 19 13 39 38 40 50 49 74 26 28 12 9 26 10 25 4 26-1 0 334z" fill="#e2312d"/>
<path d="M306 445l9-26 23-38 23-25 32-26 28-15 39-11 38-4 38 2 39 10 36 18 27 21 26 27 30 41 19 39 11 38-1 25-4 13-10 13-7 4-25 11-26 6-64 5-76 1-51-3-51-7-26-6-32-11-19-13-12-13-8-13-7-25-1-13zM881 598l0 279-787 0 15-25 31-60 26-38 38-40 20-15 19-9 25-7 26-3 191-2 90-7 59-10 81-19 95-19 41-13z" fill="#d91d32"/>
<path d="M335 432l11-25 17-26 25-25 21-15 25-13 38-11 26-2 38 2 39 12 25 13 26 20 19 19 19 26 18 38 6 25-1 26-4 12-6 11-15 15-23 13-26 7-38 6-52 3-51-2-38-4-25-6-26-8-17-9-16-13-5-6-11-19-4-13-1-25zM881 652l0 225-760 0 32-69 13-21 19-24 19-20 26-22 25-14 21-8 30-6 26-2 140-2 77-4 153-18 141-7z" fill="#ce143a"/>
<path d="M356 445l9-26 14-25 17-19 23-19 28-14 25-8 26-3 25 1 26 5 26 10 25 16 21 18 20 26 13 25 6 26 0 12-2 13-4 13-7 12-12 13-22 13-26 9-38 6-38 2-39-1-26-3-25-7-18-6-21-13-13-13-8-12-5-13-2-13zM149 877l7-25 10-26 15-25 23-30 26-23 25-18 26-13 25-8 52-7 165-4 166-10 52 0 102 8 38 1 0 180z" fill="#c10e44"/>
<path d="M386 432l10-21 12-17 13-14 17-11 22-11 12-4 26-4 25 1 26 6 26 11 18 13 13 13 10 13 13 25 5 26-1 12-4 13-6 13-11 12-18 13-19 8-26 6-26 3-38 0-25-3-26-7-16-7-18-13-10-12-7-13-2-13-1-12zM178 877l3-25 10-26 13-21 14-17 30-25 33-22 25-12 26-7 26-4 38-3 204-6 64-1 51 4 115 21 51 7 0 137z" fill="#b50c4d"/>
<path d="M415 432l6-13 13-16 13-12 17-10 21-7 13-2 25 1 13 2 26 11 13 9 12 12 15 25 3 13 1 13-2 12-5 13-10 13-14 11-13 6-13 4-26 5-25 0-26-3-32-11-17-12-9-13-4-13-1-12zM210 864l1-12 4-13 7-13 21-24 17-14 38-25 25-13 35-11 25-4 153-6 51 0 39 3 35 5 28 8 103 37 51 8 38 1 0 80-38 0-31 6-600 0z" fill="#a20b55"/>
<path d="M447 445l6-13 7-9 12-11 13-7 13-3 25 0 17 5 18 12 9 13 5 13 0 13-4 12-6 9-13 11-13 6-13 3-25 0-20-3-22-13-8-13-3-12zM261 877l1-13 5-12 12-13 53-27 29-24 21-13 27-7 27-5 75-4 48 4 33 12 13 13 6 13 6 25 6 13 12 13 36 25z" fill="#8f0a5e"/>
</g>
<path d="M435.7 24.8h1.8M524.6 24.8h1.8M435.7 31.4h1.8M524.6 31.4h1.8M435.7 38.0h1.8M524.6 38.0h1.8M435.7 44.6h1.8M524.6 44.6h1.8M435.7 51.1h1.8M524.6 51.1h1.8M435.7 57.6h1.8M524.6 57.6h1.8M435.7 64.1h1.8M524.6 64.1h1.8M435.7 70.5h1.8M524.6 70.5h1.8M435.7 76.9h1.8M524.6 76.9h1.8M435.7 83.3h1.8M524.6 83.3h1.8M435.7 89.6h1.8M524.6 89.6h1.8M435.7 96.0h1.8M524.6 96.0h1.8M435.7 102.2h1.8M524.6 102.2h1.8M435.7 108.5h1.8M524.6 108.5h1.8M436.8 23.4v1.8M436.8 111.9v1.8M449.6 23.4v1.8M449.6 111.9v1.8M462.4 23.4v1.8M462.4 111.9v1.8M475.2 23.4v1.8M475.2 111.9v1.8M488.0 23.4v1.8M488.0 111.9v1.8M500.8 23.4v1.8M500.8 111.9v1.8M513.6 23.4v1.8M513.6 111.9v1.8" stroke="#333" stroke-width="0.4" fill="none"/>
<g class="tk"><text x="435.7" y="25.8" text-anchor="end">0.08</text><text x="527.2" y="25.8">0.08</text><text x="435.7" y="32.4" text-anchor="end">0.07</text><text x="527.2" y="32.4">0.07</text><text x="435.7" y="39.0" text-anchor="end">0.06</text><text x="527.2" y="39.0">0.06</text><text x="435.7" y="45.6" text-anchor="end">0.05</text><text x="527.2" y="45.6">0.05</text><text x="435.7" y="52.1" text-anchor="end">0.04</text><text x="527.2" y="52.1">0.04</text><text x="435.7" y="58.6" text-anchor="end">0.03</text><text x="527.2" y="58.6">0.03</text><text x="435.7" y="65.1" text-anchor="end">0.02</text><text x="527.2" y="65.1">0.02</text><text x="435.7" y="71.5" text-anchor="end">0.01</text><text x="527.2" y="71.5">0.01</text><text x="435.7" y="77.9" text-anchor="end">0</text><text x="527.2" y="77.9">0</text><text x="435.7" y="84.3" text-anchor="end">-0.01</text><text x="527.2" y="84.3">-0.01</text><text x="435.7" y="90.6" text-anchor="end">-0.02</text><text x="527.2" y="90.6">-0.02</text><text x="435.7" y="97.0" text-anchor="end">-0.03</text><text x="527.2" y="97.0">-0.03</text><text x="435.7" y="103.2" text-anchor="end">-0.04</text><text x="527.2" y="103.2">-0.04</text><text x="435.7" y="109.5" text-anchor="end">-0.05</text><text x="527.2" y="109.5">-0.05</text><text x="436.8" y="21.8" text-anchor="middle">0.06</text><text x="436.8" y="116.9" text-anchor="middle">0.06</text><text x="449.6" y="21.8" text-anchor="middle">0.04</text><text x="449.6" y="116.9" text-anchor="middle">0.04</text><text x="462.4" y="21.8" text-anchor="middle">0.02</text><text x="462.4" y="116.9" text-anchor="middle">0.02</text><text x="475.2" y="21.8" text-anchor="middle">0</text><text x="475.2" y="116.9" text-anchor="middle">0</text><text x="488.0" y="21.8" text-anchor="middle">-0.02</text><text x="488.0" y="116.9" text-anchor="middle">-0.02</text><text x="500.8" y="21.8" text-anchor="middle">-0.04</text><text x="500.8" y="116.9" text-anchor="middle">-0.04</text><text x="513.6" y="21.8" text-anchor="middle">-0.06</text><text x="513.6" y="116.9" text-anchor="middle">-0.06</text><text x="480.8" y="18.7" text-anchor="middle" class="ax">x[m]</text><text x="480.8" y="120.7" text-anchor="middle" class="ax">x[m]</text><text x="424.9" y="69.4" text-anchor="end" class="ax">y[m]</text><text x="537.7" y="69.4" class="ax">y[m]</text></g>
<text class="ti" x="461.2" y="8.2" textLength="36.5" lengthAdjust="spacing">quasi-infinite</text>
<g><path d="M433.5 130.3h-8" stroke="#ff9a9a" stroke-width="0.5"/><path d="M433.5 130.3v-8.5" stroke="#f4f48a" stroke-width="0.5"/>
<rect x="423.9" y="129.8" width="2.2" height="1.1" fill="#e01020"/>
<rect x="432.8" y="120.7" width="1.5" height="1.6" fill="#c8d820"/>
<rect x="432.6" y="129.7" width="1.7" height="1.3" fill="#10c030"/>
<g class="tr"><text x="425.7" y="129.4">x</text><text x="434.4" y="121.7">y</text><text x="434.4" y="129.1">z</text></g></g>
<g transform="translate(24.0 172.5) scale(.1)" stroke="#000" stroke-opacity=".16" stroke-width="3" stroke-linejoin="round">
<rect width="881" height="880" fill="#0f76d8" stroke="none"/>
<path d="M0 0l881 0 0 880-758 0-12-13-60-18-25-12-26-19z" fill="#0d83ca"/>
<path d="M0 0l881 0 0 880-667 0 2-13-7-13-14-12-16-7-26-6-64-4-25-3-26-8-12-5-26-17z" fill="#0b90bb"/>
<path d="M0 0l881 0 0 880-611 0-16-26-11-12-14-13-25-15-12-5-26-6-77-3-25-3-38-11-26-16z" fill="#0c9baa"/>
<path d="M0 0l881 0 0 880-561 0-26-19-51-48-13-10-26-12-38-9-77-3-25-3-26-6-12-5-26-15z" fill="#10a695"/>
<path d="M0 0l881 0 0 880-504 0-32-11-25-15-77-63-26-15-25-8-26-5-77-4-25-3-38-11-26-14z" fill="#14b07f"/>
<path d="M0 0l881 0 0 842-26 13-15 12-8 13-392 0-57-15-38-17-26-16-64-52-23-15-15-7-25-8-26-5-77-5-25-3-38-12-26-13z" fill="#14b965"/>
<path d="M0 0l881 0 0 816-38 13-28 13-22 12-17 13-13 13-256 0-86-20-25-8-27-10-37-21-77-60-38-21-25-8-26-4-77-7-25-4-38-12-26-13z" fill="#14c24c"/>
<path d="M0 0l881 0 0 795-34 8-30 10-102 45-38 12-26 4-25 2-64-5-115-20-38-11-26-9-38-21-90-67-38-21-38-10-90-11-25-5-26-7-38-19z" fill="#2cca35"/>
<path d="M0 0l881 0 0 776-62 15-117 43-51 13-38 4-38 0-39-3-51-6-64-14-25-9-26-12-38-24-77-59-38-20-38-11-90-14-25-6-27-10-37-20z" fill="#6ad025"/>
<path d="M0 0l881 0 0 757-64 14-128 43-51 12-38 4-38 1-51-2-39-5-51-13-47-20-39-26-80-60-38-21-38-12-77-17-25-7-26-10-51-29z" fill="#9ed61a"/>
<path d="M0 0l881 0 0 738-64 14-128 41-63 15-39 5-38 1-38-2-39-5-51-13-25-11-26-14-38-26-64-51-38-25-26-12-85-30-30-13-63-34-26-11z" fill="#cede1a"/>
<path d="M0 0l881 0 0 719-77 17-127 41-51 12-39 6-38 1-38-1-39-5-25-7-26-8-44-23-37-25-97-82-26-18-119-66-26-13-35-12-37-10z" fill="#ecde23"/>
<path d="M0 0l881 0 0 698-77 18-127 42-64 15-38 5-39 1-38-3-26-5-25-7-29-12-24-12-38-26-29-25-25-26-59-77-13-12-26-18-41-20-61-24-51-14-51-8z" fill="#f5d72d"/>
<path d="M0 0l881 0 0 672-89 26-128 44-51 13-38 5-39 1-25-2-34-7-43-15-38-22-32-26-23-26-8-13-10-25-3-26 1-38-2-13-6-12-14-13-31-14-152-37-65-12-51-6z" fill="#f6c52f"/>
<path d="M0 0l881 0 0 632-68 31-131 51-56 19-34 7-30 3-39-2-25-4-31-10-33-18-27-20-22-26-7-13-3-12-1-13 4-26 11-38 1-25-4-13-6-13-11-13-16-12-34-17-38-10-166-29-115-11z" fill="#f4af2e"/>
<path d="M0 0l362 0 21 11 26 9 51 11 76 9 102 3 39 3 64 12 102 32 25 2 13-4 0 399-22 23-19 26-7 12-14 39-15 25-28 26-41 25-51 26-46 19-25 8-38 6-39 0-25-4-26-9-14-8-18-12-13-13-9-13-6-13-2-12 2-26 18-64 1-25-2-13-6-13-11-12-15-13-40-22-38-15-128-33-51-11-38-5-115-10z" fill="#f2982e"/>
<path d="M0 0l238 0 10 26 11 12 22 13 13 3 25 4 51 4 243 11 64 8 51 16 38 16 51 27 38 27 13 12 13 16 0 126-20 36-37 51-32 36-56 53-10 13-7 13-3 13-1 12 3 39 0 12-3 13-6 13-9 13-12 12-16 13-20 13-27 13-25 8-25 5-26 0-26-5-12-5-26-16-11-13-6-13-4-12 0-13 5-26 33-76 4-13 0-13-4-12-12-13-22-13-61-25-139-48-115-45-51-12-76-9-26-5z" fill="#f07d2d"/>
<path d="M176 242l5-25 6-13 20-25 32-26 29-18 26-12 38-14 51-11 51-6 77-1 76 3 51 5 51 12 52 21 25 14 26 18 29 27 17 26 7 25 1 13-1 13-7 25-13 26-18 25-15 18-39 34-38 24-38 16-39 8-38 2-64-7-76-15-77-22-51-18-38-16-44-24-18-12-28-26-18-25-5-13zM613 554l13 10 9 10 8 13 5 12 2 13-2 13-6 13-10 12-19 14-26 10-12 2-26 0-13-4-15-9-12-13-5-12-1-13 1-13 5-13 14-24 13-12 13-9 13-5 13-3 12 0 13 3z" fill="#ec622d"/>
<path d="M239 255l4-25 13-26 25-28 38-27 39-17 38-12 51-8 64-3 64 1 51 6 51 12 38 16 37 22 29 25 18 26 9 25 1 13-1 13-8 25-16 26-22 25-34 28-26 15-38 15-38 8-51 4-52-2-63-9-64-17-64-24-34-18-18-12-14-13-18-26-8-25z" fill="#e84a2d"/>
<path d="M276 255l6-25 14-26 26-25 36-23 38-15 38-10 38-5 51-3 52 2 51 7 38 10 38 17 31 20 27 25 14 26 4 25-4 26-13 25-23 26-36 27-25 13-39 13-38 7-51 3-51-3-51-9-51-14-51-22-26-15-16-13-11-13-8-13-5-12z" fill="#e2312d"/>
<path d="M305 255l7-25 17-26 16-15 25-17 26-13 38-12 38-7 51-3 52 2 38 5 38 10 28 12 23 13 17 12 12 13 10 13 6 13 4 12 1 13-5 26-15 25-17 18-26 19-26 14-37 13-39 7-38 2-51-2-38-6-51-14-39-16-25-15-22-20-9-13-6-12-2-13z" fill="#d91d32"/>
<path d="M331 255l3-13 5-12 8-13 23-23 26-16 28-12 36-10 38-5 38-2 39 3 38 6 28 8 29 13 20 12 15 13 11 13 7 13 4 12 1 13-1 13-4 13-8 13-9 12-14 13-28 19-26 11-38 11-25 4-39 2-38-3-38-6-39-11-33-14-30-21-16-18-7-12-3-13z" fill="#ce143a"/>
<path d="M356 255l3-13 5-12 9-13 13-13 23-15 25-12 38-10 26-4 38-2 39 3 25 4 35 11 26 12 18 13 12 13 9 13 4 12 2 13-2 13-5 13-8 12-14 16-26 18-25 11-26 8-25 5-39 2-38-2-38-8-36-11-25-13-18-13-13-13-7-12-4-13z" fill="#c10e44"/>
<path d="M380 255l3-13 6-12 10-13 16-13 19-11 26-10 25-6 51-4 26 1 27 5 24 6 25 11 14 8 15 13 10 13 5 12 2 13-2 13-5 12-10 13-13 13-16 10-25 12-26 7-25 4-26 2-38-3-26-5-25-8-26-12-11-7-14-12-10-13-5-13z" fill="#b50c4d"/>
<path d="M404 255l3-13 7-12 13-13 20-13 38-13 26-5 25-1 26 2 25 4 35 13 19 13 12 13 6 12 2 13-2 13-6 13-11 12-17 13-38 15-25 5-26 2-25-1-26-5-25-8-19-8-18-13-11-12-6-13z" fill="#a20b55"/>
<path d="M430 255l3-13 9-12 18-14 25-11 13-3 38-4 39 5 12 3 24 11 16 13 8 12 3 13-3 13-7 13-15 13-25 12-13 4-39 4-38-3-17-5-21-9-21-16-7-13z" fill="#8f0a5e"/>
</g>
<g fill="#222" fill-opacity=".75"><circle cx="35.5" cy="181.3" r="0.45"/><circle cx="63.6" cy="181.3" r="0.55"/><circle cx="46.9" cy="220.9" r="0.65"/><circle cx="52.2" cy="227.1" r="0.45"/><circle cx="74.2" cy="214.7" r="0.55"/></g>
<path d="M22.8 172.7h1.8M111.7 172.7h1.8M22.8 179.3h1.8M111.7 179.3h1.8M22.8 185.9h1.8M111.7 185.9h1.8M22.8 192.5h1.8M111.7 192.5h1.8M22.8 199.1h1.8M111.7 199.1h1.8M22.8 205.6h1.8M111.7 205.6h1.8M22.8 212.1h1.8M111.7 212.1h1.8M22.8 218.6h1.8M111.7 218.6h1.8M22.8 225.0h1.8M111.7 225.0h1.8M22.8 231.4h1.8M111.7 231.4h1.8M22.8 237.8h1.8M111.7 237.8h1.8M22.8 244.1h1.8M111.7 244.1h1.8M22.8 250.4h1.8M111.7 250.4h1.8M22.8 256.7h1.8M111.7 256.7h1.8M23.9 171.3v1.8M23.9 260.1v1.8M36.7 171.3v1.8M36.7 260.1v1.8M49.5 171.3v1.8M49.5 260.1v1.8M62.3 171.3v1.8M62.3 260.1v1.8M75.1 171.3v1.8M75.1 260.1v1.8M87.9 171.3v1.8M87.9 260.1v1.8M100.7 171.3v1.8M100.7 260.1v1.8" stroke="#333" stroke-width="0.4" fill="none"/>
<g class="tk"><text x="22.8" y="173.7" text-anchor="end">0.08</text><text x="114.3" y="173.7">0.08</text><text x="22.8" y="180.3" text-anchor="end">0.07</text><text x="114.3" y="180.3">0.07</text><text x="22.8" y="186.9" text-anchor="end">0.06</text><text x="114.3" y="186.9">0.06</text><text x="22.8" y="193.5" text-anchor="end">0.05</text><text x="114.3" y="193.5">0.05</text><text x="22.8" y="200.1" text-anchor="end">0.04</text><text x="114.3" y="200.1">0.04</text><text x="22.8" y="206.6" text-anchor="end">0.03</text><text x="114.3" y="206.6">0.03</text><text x="22.8" y="213.1" text-anchor="end">0.02</text><text x="114.3" y="213.1">0.02</text><text x="22.8" y="219.6" text-anchor="end">0.01</text><text x="114.3" y="219.6">0.01</text><text x="22.8" y="226.0" text-anchor="end">0</text><text x="114.3" y="226.0">0</text><text x="22.8" y="232.4" text-anchor="end">-0.01</text><text x="114.3" y="232.4">-0.01</text><text x="22.8" y="238.8" text-anchor="end">-0.02</text><text x="114.3" y="238.8">-0.02</text><text x="22.8" y="245.1" text-anchor="end">-0.03</text><text x="114.3" y="245.1">-0.03</text><text x="22.8" y="251.4" text-anchor="end">-0.04</text><text x="114.3" y="251.4">-0.04</text><text x="22.8" y="257.7" text-anchor="end">-0.05</text><text x="114.3" y="257.7">-0.05</text><text x="23.9" y="169.7" text-anchor="middle">0.06</text><text x="23.9" y="265.1" text-anchor="middle">0.06</text><text x="36.7" y="169.7" text-anchor="middle">0.04</text><text x="36.7" y="265.1" text-anchor="middle">0.04</text><text x="49.5" y="169.7" text-anchor="middle">0.02</text><text x="49.5" y="265.1" text-anchor="middle">0.02</text><text x="62.3" y="169.7" text-anchor="middle">0</text><text x="62.3" y="265.1" text-anchor="middle">0</text><text x="75.1" y="169.7" text-anchor="middle">-0.02</text><text x="75.1" y="265.1" text-anchor="middle">-0.02</text><text x="87.9" y="169.7" text-anchor="middle">-0.04</text><text x="87.9" y="265.1" text-anchor="middle">-0.04</text><text x="100.7" y="169.7" text-anchor="middle">-0.06</text><text x="100.7" y="265.1" text-anchor="middle">-0.06</text><text x="67.9" y="166.6" text-anchor="middle" class="ax">x[m]</text><text x="67.9" y="268.9" text-anchor="middle" class="ax">x[m]</text><text x="11.8" y="217.5" text-anchor="end" class="ax">y[m]</text><text x="123.8" y="217.5" class="ax">y[m]</text></g>
<text class="ti" x="41.5" y="156.4" textLength="51.0" lengthAdjust="spacing">cavitation tunnel</text>
<g><path d="M20.1 278.3h-8" stroke="#ff9a9a" stroke-width="0.5"/><path d="M20.1 278.3v-8.5" stroke="#f4f48a" stroke-width="0.5"/>
<rect x="10.5" y="277.8" width="2.2" height="1.1" fill="#e01020"/>
<rect x="19.4" y="268.7" width="1.5" height="1.6" fill="#c8d820"/>
<rect x="19.2" y="277.7" width="1.7" height="1.3" fill="#10c030"/>
<g class="tr"><text x="12.3" y="277.4">x</text><text x="21.0" y="269.7">y</text><text x="21.0" y="277.1">z</text></g></g>
<rect x="14.0" y="286.6" width="106.1" height="2.7" fill="url(#cb)"/>
<path d="M14.0 285.3v1.6M24.6 285.3v1.6M35.2 285.3v1.6M45.8 285.3v1.6M56.4 285.3v1.6M67.0 285.3v1.6M77.7 285.3v1.6M88.3 285.3v1.6M98.9 285.3v1.6M109.5 285.3v1.6M120.1 285.3v1.6" stroke="#444" stroke-width="0.4" fill="none"/>
<g class="cl"><text x="14.0" y="283.2" text-anchor="middle">0.00</text><text x="24.6" y="283.2" text-anchor="middle">0.001</text><text x="35.2" y="283.2" text-anchor="middle">0.002</text><text x="45.8" y="283.2" text-anchor="middle">0.003</text><text x="56.4" y="283.2" text-anchor="middle">0.004</text><text x="67.0" y="283.2" text-anchor="middle">0.005</text><text x="77.7" y="283.2" text-anchor="middle">0.006</text><text x="88.3" y="283.2" text-anchor="middle">0.007</text><text x="98.9" y="283.2" text-anchor="middle">0.008</text><text x="109.5" y="283.2" text-anchor="middle">0.009</text><text x="120.1" y="283.2" text-anchor="middle">0.01</text></g>
<text class="lt" x="67.3" y="277.5" text-anchor="middle"><tspan font-size="6.9">f</tspan><tspan class="sb" dy="1.2">z=3</tspan><tspan dy="-1.2" class="up">[</tspan>kPa<tspan class="up">]</tspan></text>
<g transform="translate(162.3 172.1) scale(.1)" stroke="#000" stroke-opacity=".16" stroke-width="3" stroke-linejoin="round">
<rect width="883" height="888" fill="#1450eb" stroke="none"/>
<path d="M0 0l672 0 109 47 64 29 25 8 13-1 0 805-883 0z" fill="#1263e1"/>
<path d="M0 0l601 0 128 54 39 19 38 22 64 44 13 6 0 743-883 0zM488 450l24 10 25 3 13-1 13-5 12-7-10-12-15-4-25-2-13 1-20 5z" fill="#0f76d8"/>
<path d="M0 0l546 0 145 58 66 32 24 15 31 24 71 67 0 692-883 0zM449 438l0 12 16 13 34 11 26 4 38 0 26-6 22-9 10-13-7-12-25-13-26-6-26-2-38 1-26 5-12 6z" fill="#0d83ca"/>
<path d="M0 0l493 0 147 54 64 27 25 13 35 22 17 13 28 25 22 26 39 55 13 14 0 639-883 0zM423 438l1 12 11 13 26 13 38 10 38 4 26 0 26-3 38-9 25-15 7-13-5-12-21-13-42-13-41-5-51 0-34 5-31 13z" fill="#0b90bb"/>
<path d="M0 0l442 0 28 13 131 42 77 30 26 12 33 19 31 23 16 15 22 26 18 26 39 77 7 10 13 10 0 585-883 0zM401 438l1 12 8 10 22 16 41 14 26 5 38 4 52-1 55-9 34-13 18-13 8-13-4-12-19-13-37-13-30-7-64-8-64 1-38 8-19 6-19 12z" fill="#0c9baa"/>
<path d="M0 0l394 0 23 13 32 13 127 35 89 32 52 27 25 17 20 17 23 26 24 39 14 38 14 52 8 21 12 16 13 5 13 1 0 536-883 0zM382 438l1 12 9 13 17 13 28 13 36 10 26 5 38 4 39 1 64-5 25-5 37-10 28-13 18-13 10-13 2-12-7-13-11-6-21-7-120-19-76-4-52 2-40 8-30 13-15 13z" fill="#10a695"/>
<path d="M0 0l349 0 22 15 39 17 38 11 115 27 51 17 39 14 53 28 23 16 25 22 21 26 14 26 10 26 5 25 3 39-3 26-4 12-7 13-12 13-13 6-13 4-26 5-25 1-39 0-128-8-51 1-38 4-38 11-29 15-12 13-5 13 1 12 9 13 23 18 25 12 39 12 38 7 51 5 51 1 57-3 33-5 38-8 39-14 21-12 17-13 39-41 12-10 26-16 0 492-883 0z" fill="#14b07f"/>
<path d="M0 0l304 0 14 13 15 10 38 17 51 14 128 26 77 24 38 17 26 13 26 18 17 15 22 26 15 26 9 26 4 25 0 26-6 26-10 18-13 13-26 13-25 7-26 3-38 1-128-3-51 3-39 6-38 13-24 16-10 13-4 13 2 12 8 13 15 15 26 14 38 14 38 10 52 7 51 4 51 1 51-1 51-5 39-7 41-13 24-13 17-13 33-32 0 444-883 0z" fill="#14b965"/>
<path d="M0 0l254 0 9 13 15 13 23 13 34 12 53 13 149 26 52 14 38 13 52 25 25 17 23 21 15 19 12 20 8 26 3 25-2 26-8 21-13 18-13 10-25 12-39 8-38 2-141 0-38 3-38 7-39 13-17 9-14 13-8 13-3 13 2 12 7 13 12 13 19 13 28 13 25 9 39 10 89 13 64 5 64 2 90-3 38-5 26-6 31-12 20-13 0 386-883 0z" fill="#14c24c"/>
<path d="M0 0l158 0 8 13 17 13 25 13 32 12 42 13 66 13 164 21 38 8 39 10 35 13 29 13 25 14 30 24 12 13 16 26 6 13 5 25-1 26-4 13-5 13-8 10-16 16-27 12-33 8-39 3-153 3-39 4-38 8-33 13-19 13-12 13-6 13-2 13 2 12 6 13 12 13 16 13 23 12 51 19 64 14 103 13 140 11 90 0 64-7 0 337-883 0z" fill="#2cca35"/>
<path d="M0 66l26 7 38 5 115 7 128 11 128 6 77 9 51 11 51 16 39 17 35 25 16 16 15 23 5 13 5 25-3 26-4 13-8 13-12 13-24 14-38 10-39 3-115 3-51 3-38 5-39 10-34 16-17 16-7 10-5 13-1 13 2 12 6 13 11 13 15 13 18 11 38 17 51 15 77 14 205 30 89 8 77 2 0 302-883 0z" fill="#6ad025"/>
<path d="M0 139l38-5 52-4 179-7 115-6 77 1 64 8 51 12 51 19 20 10 20 13 14 13 20 26 6 13 4 25-4 26-6 13-10 13-13 10-25 11-39 8-38 4-141 4-51 6-38 9-26 10-23 15-11 13-7 13-4 13 0 13 2 12 6 13 10 13 13 13 14 9 38 19 52 17 51 12 113 20 155 32 77 11 77 7 0 272-883 0z" fill="#9ed61a"/>
<path d="M0 201l38-16 39-8 153-17 154-25 51-3 64 4 64 12 54 19 24 13 18 13 13 13 10 13 6 13 3 13 1 12-1 13-5 13-8 13-14 13-27 13-36 7-51 5-140 5-52 6-38 9-26 10-14 9-13 13-7 13-5 13-2 13 1 13 3 12 5 13 9 13 23 21 31 18 46 17 64 18 139 29 168 44 64 12 77 10 0 243-883 0z" fill="#cede1a"/>
<path d="M0 251l26-11 38-11 102-13 39-7 38-11 115-37 26-7 38-5 51-1 39 4 25 4 52 15 21 9 22 13 17 13 11 13 7 13 4 13 1 12-3 13-4 8-12 17-13 9-26 10-38 8-51 3-154 4-51 5-38 8-14 5-20 13-10 13-6 13-6 26 2 26 4 12 14 26 23 23 25 16 39 16 89 26 144 35 125 42 51 15 64 15 77 12 0 212-883 0z" fill="#ecde23"/>
<path d="M263 270l3-13 8-12 12-13 35-26 23-13 40-17 34-9 30-3 25 0 40 3 37 8 39 14 25 13 20 17 9 13 4 13 1 12-4 13-9 13-18 13-41 13-39 4-102 1-64-2-43-3-21-4-26-9-14-13zM0 301l38-9 26-1 35 5 29 14 13 12 13 19 28 84 20 38 21 26 14 13 32 19 25 11 39 12 217 61 35 13 106 45 64 22 64 16 64 10 0 177-883 0z" fill="#f5d72d"/>
<path d="M342 257l2-12 7-13 12-13 17-13 26-13 16-5 39-6 25 0 26 3 25 6 26 8 17 7 20 13 12 13 5 13 0 12-6 13-15 13-37 13-47 5-77-2-29-3-22-5-26-10-12-11zM0 409l7 41 6 20 13 19 12 8 13 4 13 2 64-4 13 1 25 5 77 31 164 43 120 39 59 25 131 68 51 22 51 14 64 9 0 132-883 0z" fill="#f6c52f"/>
<path d="M401 245l6-13 15-14 26-10 25-3 39 3 33 11 20 13 9 13-1 12-14 13-34 10-39 3-38-4-29-9-15-13zM0 594l38-7 103-14 51-4 38-1 39 1 38 4 33 6 48 13 106 39 43 19 39 19 63 39 78 60 38 23 38 14 90 13 0 70-883 0z" fill="#f4af2e"/>
<path d="M0 713l13-3 13-5 50-36 22-13 29-13 38-12 65-19 39-8 38-3 39 5 38 11 36 14 105 44 39 20 38 26 29 25 60 74 26 25 12 9 26 14 58 20-813 0z" fill="#f2982e"/>
<path d="M0 862l13 3 13-4 12-9 13-14 13-21 30-58 17-25 17-19 24-20 40-22 51-19 39-11 38-4 38 5 52 16 89 33 26 12 27 16 33 25 23 26 18 26 39 66 22 24-687 0z" fill="#f07d2d"/>
<path d="M110 888l10-51 12-39 21-39 23-25 29-22 38-19 26-9 25-5 39-3 25 2 26 5 64 18 51 20 38 22 33 29 19 26 15 26 30 64z" fill="#ec622d"/>
<path d="M157 862l8-38 10-26 16-26 25-26 27-18 39-15 38-8 26 0 51 6 51 14 38 16 31 18 28 26 19 26 19 38 13 39-438 0z" fill="#e84a2d"/>
<path d="M192 862l4-25 9-26 17-26 21-21 26-16 25-11 26-5 38-2 39 4 38 10 37 15 27 17 24 22 18 26 12 25 11 39-372 0z" fill="#e2312d"/>
<path d="M221 862l6-25 12-26 10-13 20-18 25-15 26-8 26-4 25 0 38 6 26 8 26 12 25 17 15 15 18 26 10 25 5 26-313 0z" fill="#d91d32"/>
<path d="M246 875l5-26 5-12 13-20 13-13 12-9 26-12 26-6 25 0 26 3 25 7 25 11 18 13 14 13 17 25 5 13 4 26-259 0z" fill="#ce143a"/>
<path d="M270 888l4-26 6-13 8-12 12-13 20-13 13-5 13-3 25-2 26 4 13 3 25 13 13 9 13 15 9 17 4 13 1 13z" fill="#c10e44"/>
<path d="M297 888l3-13 6-13 14-16 13-9 13-5 25-2 26 4 13 6 12 9 13 16 4 10 2 13z" fill="#b50c4d"/>
<path d="M338 888l8-9 12-6 13 0 13 6 7 9z" fill="#a20b55"/>
</g>
<g fill="#222" fill-opacity=".75"><circle cx="197.6" cy="212.1" r="0.45"/><circle cx="200.3" cy="211.2" r="0.55"/><circle cx="202.9" cy="212.1" r="0.65"/><circle cx="204.7" cy="211.2" r="0.45"/><circle cx="206.4" cy="212.9" r="0.55"/><circle cx="209.1" cy="212.1" r="0.65"/><circle cx="181.7" cy="220.9" r="0.45"/><circle cx="184.4" cy="222.7" r="0.55"/><circle cx="187.0" cy="221.8" r="0.65"/><circle cx="190.6" cy="221.8" r="0.45"/><circle cx="193.2" cy="222.7" r="0.55"/><circle cx="178.2" cy="225.4" r="0.65"/><circle cx="202.0" cy="225.4" r="0.45"/><circle cx="197.6" cy="230.7" r="0.55"/><circle cx="204.7" cy="234.3" r="0.65"/><circle cx="210.9" cy="243.1" r="0.45"/><circle cx="188.8" cy="216.5" r="0.55"/></g>
<path d="M161.1 172.3h1.8M250.2 172.3h1.8M161.1 179.0h1.8M250.2 179.0h1.8M161.1 185.7h1.8M250.2 185.7h1.8M161.1 192.3h1.8M250.2 192.3h1.8M161.1 198.9h1.8M250.2 198.9h1.8M161.1 205.5h1.8M250.2 205.5h1.8M161.1 212.0h1.8M250.2 212.0h1.8M161.1 218.6h1.8M250.2 218.6h1.8M161.1 225.1h1.8M250.2 225.1h1.8M161.1 231.5h1.8M250.2 231.5h1.8M161.1 238.0h1.8M250.2 238.0h1.8M161.1 244.4h1.8M250.2 244.4h1.8M161.1 250.7h1.8M250.2 250.7h1.8M161.1 257.1h1.8M250.2 257.1h1.8M162.2 170.9v1.8M162.2 260.5v1.8M175.0 170.9v1.8M175.0 260.5v1.8M187.8 170.9v1.8M187.8 260.5v1.8M200.7 170.9v1.8M200.7 260.5v1.8M213.5 170.9v1.8M213.5 260.5v1.8M226.3 170.9v1.8M226.3 260.5v1.8M239.1 170.9v1.8M239.1 260.5v1.8" stroke="#333" stroke-width="0.4" fill="none"/>
<g class="tk"><text x="161.1" y="173.3" text-anchor="end">0.08</text><text x="252.8" y="173.3">0.08</text><text x="161.1" y="180.0" text-anchor="end">0.07</text><text x="252.8" y="180.0">0.07</text><text x="161.1" y="186.7" text-anchor="end">0.06</text><text x="252.8" y="186.7">0.06</text><text x="161.1" y="193.3" text-anchor="end">0.05</text><text x="252.8" y="193.3">0.05</text><text x="161.1" y="199.9" text-anchor="end">0.04</text><text x="252.8" y="199.9">0.04</text><text x="161.1" y="206.5" text-anchor="end">0.03</text><text x="252.8" y="206.5">0.03</text><text x="161.1" y="213.0" text-anchor="end">0.02</text><text x="252.8" y="213.0">0.02</text><text x="161.1" y="219.6" text-anchor="end">0.01</text><text x="252.8" y="219.6">0.01</text><text x="161.1" y="226.1" text-anchor="end">0</text><text x="252.8" y="226.1">0</text><text x="161.1" y="232.5" text-anchor="end">-0.01</text><text x="252.8" y="232.5">-0.01</text><text x="161.1" y="239.0" text-anchor="end">-0.02</text><text x="252.8" y="239.0">-0.02</text><text x="161.1" y="245.4" text-anchor="end">-0.03</text><text x="252.8" y="245.4">-0.03</text><text x="161.1" y="251.7" text-anchor="end">-0.04</text><text x="252.8" y="251.7">-0.04</text><text x="161.1" y="258.1" text-anchor="end">-0.05</text><text x="252.8" y="258.1">-0.05</text><text x="162.2" y="169.3" text-anchor="middle">0.06</text><text x="162.2" y="265.5" text-anchor="middle">0.06</text><text x="175.0" y="169.3" text-anchor="middle">0.04</text><text x="175.0" y="265.5" text-anchor="middle">0.04</text><text x="187.8" y="169.3" text-anchor="middle">0.02</text><text x="187.8" y="265.5" text-anchor="middle">0.02</text><text x="200.7" y="169.3" text-anchor="middle">0</text><text x="200.7" y="265.5" text-anchor="middle">0</text><text x="213.5" y="169.3" text-anchor="middle">-0.02</text><text x="213.5" y="265.5" text-anchor="middle">-0.02</text><text x="226.3" y="169.3" text-anchor="middle">-0.04</text><text x="226.3" y="265.5" text-anchor="middle">-0.04</text><text x="239.1" y="169.3" text-anchor="middle">-0.06</text><text x="239.1" y="265.5" text-anchor="middle">-0.06</text><text x="206.3" y="166.2" text-anchor="middle" class="ax">x[m]</text><text x="206.3" y="269.3" text-anchor="middle" class="ax">x[m]</text><text x="149.7" y="217.5" text-anchor="end" class="ax">y[m]</text><text x="263.5" y="217.5" class="ax">y[m]</text></g>
<text class="ti" x="186.2" y="156.4" textLength="37.2" lengthAdjust="spacing">quasi-infinite</text>
<g><path d="M159.0 278.2h-8" stroke="#ff9a9a" stroke-width="0.5"/><path d="M159.0 278.2v-8.5" stroke="#f4f48a" stroke-width="0.5"/>
<rect x="149.4" y="277.6" width="2.2" height="1.1" fill="#e01020"/>
<rect x="158.2" y="268.6" width="1.5" height="1.6" fill="#c8d820"/>
<rect x="158.2" y="277.6" width="1.7" height="1.3" fill="#10c030"/>
<g class="tr"><text x="151.2" y="277.3">x</text><text x="159.9" y="269.6">y</text><text x="159.9" y="277.0">z</text></g></g>
<rect x="166.3" y="286.3" width="80.9" height="2.8" fill="url(#cb)"/>
<path d="M175.9 285.0v1.6M189.9 285.0v1.6M204.4 285.0v1.6M218.4 285.0v1.6M232.9 285.0v1.6M246.9 285.0v1.6" stroke="#444" stroke-width="0.4" fill="none"/>
<g class="cl"><text x="175.9" y="282.8" text-anchor="middle">0.006</text><text x="189.9" y="282.8" text-anchor="middle">0.008</text><text x="204.4" y="282.8" text-anchor="middle">0.01</text><text x="218.4" y="282.8" text-anchor="middle">0.012</text><text x="232.9" y="282.8" text-anchor="middle">0.014</text><text x="246.9" y="282.8" text-anchor="middle">0.016</text></g>
<text class="lt" x="209.5" y="277.0" text-anchor="middle"><tspan font-size="6.9">f</tspan><tspan class="sb" dy="1.2">z=3</tspan><tspan dy="-1.2" class="up">[</tspan>kPa<tspan class="up">]</tspan></text>
<g transform="translate(300.3 172.2) scale(.1)" stroke="#000" stroke-opacity=".16" stroke-width="3" stroke-linejoin="round">
<rect width="886" height="883" fill="#1450eb" stroke="none"/>
<path d="M208 0l678 0 0 883-886 0 0-144 13-19 13-25 15-42 10-43 34-213 11-51 64-231 23-64z" fill="#1263e1"/>
<path d="M310 0l576 0 0 883-834 0 38-135 17-70 9-44 17-135 12-64 14-51 26-77 26-115 13-38 13-26 59-90 11-25z" fill="#0f76d8"/>
<path d="M378 0l508 0 0 883-783 0 9-51 37-167 22-166 7-38 10-39 14-38 33-77 26-89 10-26 20-38 53-77 16-26 11-25z" fill="#0d83ca"/>
<path d="M437 0l449 0 0 883-750 0 11-64 29-141 23-179 14-64 21-51 40-77 28-77 17-38 23-38 72-103 15-25z" fill="#0b90bb"/>
<path d="M498 0l388 0 0 883-723 0 38-205 23-192 9-38 9-26 18-38 46-77 32-77 20-38 40-58 80-96 16-25z" fill="#0c9baa"/>
<path d="M886 0l0 883-699 0 32-192 21-179 7-39 7-25 9-26 14-25 57-90 42-89 16-26 19-26 38-44 88-84 18-25 5-13z" fill="#10a695"/>
<path d="M886 0l0 883-678 0 30-192 18-166 6-39 6-25 10-26 12-25 61-90 48-90 25-38 25-30 26-25 90-73 28-26 21-25 7-13z" fill="#14b07f"/>
<path d="M886 0l0 883-659 0 28-192 17-166 7-39 7-25 10-26 15-25 63-90 45-77 18-26 25-31 26-25 38-31 93-66 33-26 24-25 8-13z" fill="#14b965"/>
<path d="M886 0l0 883-641 0 27-192 15-154 6-38 7-26 15-38 15-25 58-77 61-93 18-22 21-23 38-33 78-52 119-72 17-12 12-13 5-13z" fill="#14c24c"/>
<path d="M886 40l0 843-623 0 23-179 13-141 8-51 6-26 9-25 12-26 17-25 60-77 51-71 26-32 38-37 39-29 39-24 38-21 77-36 64-22 52-15 25-4z" fill="#2cca35"/>
<path d="M886 90l0 793-605 0 20-166 13-141 7-51 9-39 10-25 13-26 18-25 138-167 41-38 41-29 38-22 39-19 64-23 38-10 39-7 38-4z" fill="#6ad025"/>
<path d="M886 123l0 760-587 0 19-166 13-141 8-51 8-32 12-32 15-26 18-25 45-52 102-111 35-29 42-29 26-14 39-17 64-20 64-12 38-3z" fill="#9ed61a"/>
<path d="M886 152l0 731-568 0 18-166 12-128 7-52 9-38 10-26 13-25 17-26 45-51 103-102 39-33 38-26 52-24 64-21 64-10 38-3z" fill="#cede1a"/>
<path d="M886 179l0 704-547 0 14-128 13-154 7-51 9-38 8-26 12-25 22-34 38-42 116-105 38-31 30-19 47-21 26-9 39-10 64-9z" fill="#ecde23"/>
<path d="M886 207l0 676-522 0 9-102 11-154 8-64 8-38 13-39 13-25 17-26 19-22 26-25 116-96 31-23 33-19 51-21 51-13 52-7z" fill="#f5d72d"/>
<path d="M886 236l0 647-494 0 5-64 7-154 7-76 7-39 10-38 16-39 16-25 22-26 32-28 115-87 26-17 26-14 38-16 51-13 52-8z" fill="#f6c52f"/>
<path d="M886 268l0 615-462 0 2-51 1-154 7-77 9-51 11-38 11-26 15-25 22-26 37-31 103-70 39-23 38-15 51-14 52-8z" fill="#f4af2e"/>
<path d="M886 306l0 577-431 0 1-51-4-128 4-77 8-51 9-39 15-38 15-26 23-27 39-29 77-46 51-26 35-12 30-8z" fill="#f2982e"/>
<path d="M886 365l0 518-400 0-7-179 1-39 3-38 6-38 12-46 12-31 16-26 25-25 37-26 51-26 51-21 39-11 38-6z" fill="#f07d2d"/>
<path d="M578 484l15-11 22-12 40-16 51-14 52-6 38 2 39 9 25 13 13 11 13 16 0 407-367 0-11-166 1-52 5-45 9-44 14-39 15-26z" fill="#ec622d"/>
<path d="M608 512l21-13 39-15 38-7 39-2 38 5 26 9 26 17 16 19 9 15 9 23 6 26 5 38 2 77-2 179-321 0-10-64-5-77 0-64 5-51 5-26 13-38 15-26 11-12z" fill="#e84a2d"/>
<path d="M668 534l25-4 26 0 26 2 19 5 19 11 13 11 12 17 5 13 6 25 2 26 2 89-1 52-5 38-5 26-11 25-8 13-153 0-11-15-11-23-8-26-6-38-3-52 3-76-8-26 0-13 8-13 38-50 13-10z" fill="#e2312d"/>
<path d="M681 590l12 3 13 8 13 13-1 13-9 13-4 13 1 51-5 51-8 24-12 15-13-3-13-23-6-26-3-25 2-64-5-13-11-13-2-13 12-11 13-8 13-5z" fill="#d91d32"/>
<path d="M655 614l13-5 13 1 7 4-1 13-6 6-13 1-11-7z" fill="#ce143a"/>
</g>
<g fill="#222" fill-opacity=".75"><circle cx="328.7" cy="241.1" r="0.45"/><circle cx="330.4" cy="245.5" r="0.55"/><circle cx="331.3" cy="249.9" r="0.65"/></g>
<path d="M299.1 172.4h1.8M388.5 172.4h1.8M299.1 179.1h1.8M388.5 179.1h1.8M299.1 185.7h1.8M388.5 185.7h1.8M299.1 192.3h1.8M388.5 192.3h1.8M299.1 198.9h1.8M388.5 198.9h1.8M299.1 205.4h1.8M388.5 205.4h1.8M299.1 211.9h1.8M388.5 211.9h1.8M299.1 218.4h1.8M388.5 218.4h1.8M299.1 224.9h1.8M388.5 224.9h1.8M299.1 231.3h1.8M388.5 231.3h1.8M299.1 237.7h1.8M388.5 237.7h1.8M299.1 244.0h1.8M388.5 244.0h1.8M299.1 250.4h1.8M388.5 250.4h1.8M299.1 256.7h1.8M388.5 256.7h1.8M300.2 171.0v1.8M300.2 260.1v1.8M313.1 171.0v1.8M313.1 260.1v1.8M325.9 171.0v1.8M325.9 260.1v1.8M338.8 171.0v1.8M338.8 260.1v1.8M351.7 171.0v1.8M351.7 260.1v1.8M364.5 171.0v1.8M364.5 260.1v1.8M377.4 171.0v1.8M377.4 260.1v1.8" stroke="#333" stroke-width="0.4" fill="none"/>
<g class="tk"><text x="299.1" y="173.4" text-anchor="end">0.08</text><text x="391.1" y="173.4">0.08</text><text x="299.1" y="180.1" text-anchor="end">0.07</text><text x="391.1" y="180.1">0.07</text><text x="299.1" y="186.7" text-anchor="end">0.06</text><text x="391.1" y="186.7">0.06</text><text x="299.1" y="193.3" text-anchor="end">0.05</text><text x="391.1" y="193.3">0.05</text><text x="299.1" y="199.9" text-anchor="end">0.04</text><text x="391.1" y="199.9">0.04</text><text x="299.1" y="206.4" text-anchor="end">0.03</text><text x="391.1" y="206.4">0.03</text><text x="299.1" y="212.9" text-anchor="end">0.02</text><text x="391.1" y="212.9">0.02</text><text x="299.1" y="219.4" text-anchor="end">0.01</text><text x="391.1" y="219.4">0.01</text><text x="299.1" y="225.9" text-anchor="end">0</text><text x="391.1" y="225.9">0</text><text x="299.1" y="232.3" text-anchor="end">-0.01</text><text x="391.1" y="232.3">-0.01</text><text x="299.1" y="238.7" text-anchor="end">-0.02</text><text x="391.1" y="238.7">-0.02</text><text x="299.1" y="245.0" text-anchor="end">-0.03</text><text x="391.1" y="245.0">-0.03</text><text x="299.1" y="251.4" text-anchor="end">-0.04</text><text x="391.1" y="251.4">-0.04</text><text x="299.1" y="257.7" text-anchor="end">-0.05</text><text x="391.1" y="257.7">-0.05</text><text x="300.2" y="169.4" text-anchor="middle">0.06</text><text x="300.2" y="265.1" text-anchor="middle">0.06</text><text x="313.1" y="169.4" text-anchor="middle">0.04</text><text x="313.1" y="265.1" text-anchor="middle">0.04</text><text x="325.9" y="169.4" text-anchor="middle">0.02</text><text x="325.9" y="265.1" text-anchor="middle">0.02</text><text x="338.8" y="169.4" text-anchor="middle">0</text><text x="338.8" y="265.1" text-anchor="middle">0</text><text x="351.7" y="169.4" text-anchor="middle">-0.02</text><text x="351.7" y="265.1" text-anchor="middle">-0.02</text><text x="364.5" y="169.4" text-anchor="middle">-0.04</text><text x="364.5" y="265.1" text-anchor="middle">-0.04</text><text x="377.4" y="169.4" text-anchor="middle">-0.06</text><text x="377.4" y="265.1" text-anchor="middle">-0.06</text><text x="344.4" y="166.3" text-anchor="middle" class="ax">x[m]</text><text x="344.4" y="268.9" text-anchor="middle" class="ax">x[m]</text><text x="287.0" y="217.3" text-anchor="end" class="ax">y[m]</text><text x="401.6" y="217.3" class="ax">y[m]</text></g>
<text class="ti" x="317.5" y="156.4" textLength="51.0" lengthAdjust="spacing">cavitation tunnel</text>
<g><path d="M297.5 277.8h-8" stroke="#ff9a9a" stroke-width="0.5"/><path d="M297.5 277.8v-8.5" stroke="#f4f48a" stroke-width="0.5"/>
<rect x="287.9" y="277.2" width="2.2" height="1.1" fill="#e01020"/>
<rect x="296.8" y="268.2" width="1.5" height="1.6" fill="#c8d820"/>
<rect x="296.6" y="277.2" width="1.7" height="1.3" fill="#10c030"/>
<g class="tr"><text x="289.7" y="276.9">x</text><text x="298.4" y="269.2">y</text><text x="298.4" y="276.6">z</text></g></g>
<rect x="300.4" y="286.3" width="84.0" height="2.8" fill="url(#cb)"/>
<path d="M308.1 285.0v1.6M325.4 285.0v1.6M342.4 285.0v1.6M359.7 285.0v1.6M376.8 285.0v1.6" stroke="#444" stroke-width="0.4" fill="none"/>
<g class="cl"><text x="308.1" y="282.8" text-anchor="middle">0.026</text><text x="325.4" y="282.8" text-anchor="middle">0.028</text><text x="342.4" y="282.8" text-anchor="middle">0.03</text><text x="359.7" y="282.8" text-anchor="middle">0.032</text><text x="376.8" y="282.8" text-anchor="middle">0.034</text></g>
<text class="lt" x="343.2" y="277.5" text-anchor="middle"><tspan font-size="6.9">f</tspan><tspan class="sb" dy="1.2">z=4</tspan><tspan dy="-1.2" class="up">[</tspan>kPa<tspan class="up">]</tspan></text>
<g transform="translate(440.2 172.2) scale(.1)" stroke="#000" stroke-opacity=".16" stroke-width="3" stroke-linejoin="round">
<rect width="883" height="886" fill="#1450eb" stroke="none"/>
<path d="M55 0l828 0 0 886-883 0 0-370 20-28 11-26 12-38 9-52 1-38-2-28-6-36-17-77-4-52 4-51 6-39 7-25z" fill="#1263e1"/>
<path d="M170 0l713 0 0 886-883 0 0-285 38-35 26-34 38-70 11-25 8-26 6-26 4-38 7-180 4-51 9-52z" fill="#0f76d8"/>
<path d="M252 0l631 0 0 886-883 0 0-215 64-69 26-31 62-96 15-26 11-25 9-39 12-103 16-102z" fill="#0d83ca"/>
<path d="M324 0l559 0 0 886-883 0 0-154 38-51 52-57 27-33 75-106 15-23 12-25 10-26 9-39 47-231 17-64z" fill="#0b90bb"/>
<path d="M388 0l495 0 0 886-883 0 0-111 52-69 63-68 28-34 87-116 16-26 12-25 19-52 16-51 31-141 21-77 21-65z" fill="#0c9baa"/>
<path d="M883 0l0 886-883 0 0-79 22-24 55-70 77-83 94-116 18-26 22-39 29-64 14-38 33-142 27-89 27-65 29-51z" fill="#10a695"/>
<path d="M883 0l0 886-883 0 0-53 27-24 61-77 73-77 57-69 53-60 28-38 48-77 11-22 6-17 27-128 14-51 17-48 19-42 20-39 25-37 22-27z" fill="#14b07f"/>
<path d="M883 0l0 886-883 0 0-32 26-17 14-15 62-79 73-75 66-77 53-57 52-66 38-46 13-24 3-13 9-77 11-51 15-46 18-44 26-51 24-39 22-28 46-49z" fill="#14b965"/>
<path d="M883 0l0 886-883 0 0-13 26-13 25-23 74-92 67-69 63-72 62-65 41-50 52-50 11-15 10-26 4-26 1-38 3-26 5-26 12-38 17-42 26-49 26-39 25-30 26-24 43-34 14-13 10-13z" fill="#14c24c"/>
<path d="M883 0l0 886-872 0 28-13 25-22 51-68 26-30 64-65 61-72 54-53 51-59 62-55 10-12 8-13 8-26 5-77 5-26 8-25 16-39 21-38 23-36 26-32 26-23 38-26 38-20 52-22 38-12 100-22z" fill="#2cca35"/>
<path d="M883 55l0 831-827 0 16-13 11-13 44-64 21-26 70-71 59-70 56-55 54-60 61-52 13-13 9-12 6-13 7-26 7-77 10-39 18-38 19-32 23-32 22-26 30-26 28-18 25-12 39-14 51-13 38-7 39-5z" fill="#6ad025"/>
<path d="M883 93l0 793-790 0 39-64 18-26 22-26 58-60 57-68 59-57 52-59 24-21 39-30 25-26 8-12 10-26 9-77 12-41 12-27 22-35 19-26 23-27 26-21 24-16 27-12 26-9 38-10 51-9z" fill="#9ed61a"/>
<path d="M883 127l0 759-756 0 8-26 13-25 16-26 21-26 58-60 55-68 60-59 50-57 27-24 54-40 23-26 7-12 9-26 12-77 10-31 26-46 18-26 23-26 23-20 25-16 26-11 26-9 64-12z" fill="#cede1a"/>
<path d="M883 161l0 725-723 0 3-26 4-13 14-25 20-26 61-64 50-64 59-58 39-47 23-24 70-51 27-26 9-13 12-25 7-26 10-51 13-39 23-38 32-39 31-26 24-12 26-9 51-11z" fill="#ecde23"/>
<path d="M883 199l0 687-690 0-2-13 2-13 4-13 8-15 17-23 50-51 57-77 55-53 50-63 12-13 16-13 50-32 25-19 14-13 22-26 8-12 11-26 16-64 9-26 23-38 23-26 16-13 22-13 37-13 30-5 77-8z" fill="#f5d72d"/>
<path d="M883 253l0 633-655 0 0-13 2-13 13-24 51-55 52-77 64-62 34-51 17-20 21-19 63-38 36-26 30-26 25-25 10-13 13-26 22-64 8-13 11-13 17-13 28-13 23-5 77-10z" fill="#f6c52f"/>
<path d="M883 373l0 513-616 0 6-13 9-12 38-43 38-67 13-18 13-14 38-34 17-17 9-13 27-51 10-13 14-15 36-24 169-97 51-25 102-42z" fill="#f4af2e"/>
<path d="M883 448l0 438-574 0 37-39 39-64 18-25 45-42 21-23 18-25 29-52 11-12 15-13 40-26 45-26 51-26 39-17 38-14 38-11z" fill="#f2982e"/>
<path d="M883 492l0 394-530 0 24-26 32-51 13-18 72-72 56-78 13-14 26-20 68-42 34-17 38-17 39-14 38-11z" fill="#f07d2d"/>
<path d="M883 530l0 356-484 0 33-51 16-21 64-61 64-81 18-17 20-17 34-22 43-25 64-31 26-9 38-11z" fill="#ec622d"/>
<path d="M883 571l0 315-437 0 14-26 13-17 64-62 64-79 39-32 64-38 38-20 39-17 51-16z" fill="#e84a2d"/>
<path d="M883 617l0 269-385 0 14-19 51-57 49-65 15-16 27-23 50-29 77-34 51-17z" fill="#e2312d"/>
<path d="M883 664l0 222-331 0 24-30 41-60 20-26 16-15 25-21 39-22 51-20 64-19z" fill="#d91d32"/>
<path d="M883 707l0 179-279 0 31-51 18-27 22-25 29-21 38-20 39-14 51-13z" fill="#ce143a"/>
<path d="M883 747l0 139-226 0 10-26 16-25 21-24 25-19 26-14 38-14 39-9z" fill="#c10e44"/>
<path d="M883 787l0 99-169 0 4-13 6-13 10-13 13-12 21-15 25-12 26-8 26-6z" fill="#b50c4d"/>
<path d="M883 830l0 56-103 0 13-18 10-8 16-10 26-10z" fill="#a20b55"/>
<path d="M883 880l0 6-13 0z" fill="#8f0a5e"/>
</g>
<g fill="#222" fill-opacity=".75"><circle cx="453.4" cy="227.1" r="0.45"/><circle cx="456.1" cy="225.4" r="0.55"/><circle cx="457.9" cy="228.9" r="0.65"/><circle cx="459.6" cy="223.6" r="0.45"/><circle cx="461.4" cy="226.2" r="0.55"/><circle cx="464.0" cy="221.8" r="0.65"/><circle cx="466.7" cy="222.7" r="0.45"/><circle cx="468.5" cy="225.4" r="0.55"/><circle cx="469.3" cy="220.0" r="0.65"/><circle cx="472.0" cy="220.9" r="0.45"/><circle cx="473.8" cy="218.3" r="0.55"/><circle cx="475.5" cy="221.8" r="0.65"/><circle cx="477.3" cy="216.5" r="0.45"/><circle cx="479.1" cy="213.8" r="0.55"/><circle cx="480.8" cy="212.1" r="0.65"/><circle cx="482.6" cy="214.7" r="0.45"/><circle cx="484.4" cy="210.3" r="0.55"/><circle cx="486.1" cy="213.0" r="0.65"/><circle cx="487.9" cy="211.2" r="0.45"/><circle cx="490.5" cy="209.4" r="0.55"/><circle cx="493.2" cy="207.6" r="0.65"/><circle cx="494.9" cy="210.3" r="0.45"/><circle cx="471.1" cy="234.2" r="0.55"/><circle cx="466.7" cy="230.7" r="0.65"/><circle cx="479.9" cy="225.4" r="0.45"/><circle cx="454.3" cy="244.9" r="0.55"/><circle cx="484.4" cy="251.9" r="0.65"/><circle cx="493.2" cy="248.4" r="0.45"/><circle cx="479.9" cy="205.9" r="0.55"/><circle cx="486.1" cy="207.6" r="0.65"/></g>
<path d="M439.0 172.4h1.8M528.1 172.4h1.8M439.0 179.1h1.8M528.1 179.1h1.8M439.0 185.7h1.8M528.1 185.7h1.8M439.0 192.4h1.8M528.1 192.4h1.8M439.0 199.0h1.8M528.1 199.0h1.8M439.0 205.5h1.8M528.1 205.5h1.8M439.0 212.1h1.8M528.1 212.1h1.8M439.0 218.6h1.8M528.1 218.6h1.8M439.0 225.0h1.8M528.1 225.0h1.8M439.0 231.5h1.8M528.1 231.5h1.8M439.0 237.9h1.8M528.1 237.9h1.8M439.0 244.3h1.8M528.1 244.3h1.8M439.0 250.6h1.8M528.1 250.6h1.8M439.0 257.0h1.8M528.1 257.0h1.8M440.1 171.0v1.8M440.1 260.4v1.8M452.9 171.0v1.8M452.9 260.4v1.8M465.7 171.0v1.8M465.7 260.4v1.8M478.6 171.0v1.8M478.6 260.4v1.8M491.4 171.0v1.8M491.4 260.4v1.8M504.2 171.0v1.8M504.2 260.4v1.8M517.0 171.0v1.8M517.0 260.4v1.8" stroke="#333" stroke-width="0.4" fill="none"/>
<g class="tk"><text x="439.0" y="173.4" text-anchor="end">0.08</text><text x="530.7" y="173.4">0.08</text><text x="439.0" y="180.1" text-anchor="end">0.07</text><text x="530.7" y="180.1">0.07</text><text x="439.0" y="186.7" text-anchor="end">0.06</text><text x="530.7" y="186.7">0.06</text><text x="439.0" y="193.4" text-anchor="end">0.05</text><text x="530.7" y="193.4">0.05</text><text x="439.0" y="200.0" text-anchor="end">0.04</text><text x="530.7" y="200.0">0.04</text><text x="439.0" y="206.5" text-anchor="end">0.03</text><text x="530.7" y="206.5">0.03</text><text x="439.0" y="213.1" text-anchor="end">0.02</text><text x="530.7" y="213.1">0.02</text><text x="439.0" y="219.6" text-anchor="end">0.01</text><text x="530.7" y="219.6">0.01</text><text x="439.0" y="226.0" text-anchor="end">0</text><text x="530.7" y="226.0">0</text><text x="439.0" y="232.5" text-anchor="end">-0.01</text><text x="530.7" y="232.5">-0.01</text><text x="439.0" y="238.9" text-anchor="end">-0.02</text><text x="530.7" y="238.9">-0.02</text><text x="439.0" y="245.3" text-anchor="end">-0.03</text><text x="530.7" y="245.3">-0.03</text><text x="439.0" y="251.6" text-anchor="end">-0.04</text><text x="530.7" y="251.6">-0.04</text><text x="439.0" y="258.0" text-anchor="end">-0.05</text><text x="530.7" y="258.0">-0.05</text><text x="440.1" y="169.4" text-anchor="middle">0.06</text><text x="440.1" y="265.4" text-anchor="middle">0.06</text><text x="452.9" y="169.4" text-anchor="middle">0.04</text><text x="452.9" y="265.4" text-anchor="middle">0.04</text><text x="465.7" y="169.4" text-anchor="middle">0.02</text><text x="465.7" y="265.4" text-anchor="middle">0.02</text><text x="478.6" y="169.4" text-anchor="middle">0</text><text x="478.6" y="265.4" text-anchor="middle">0</text><text x="491.4" y="169.4" text-anchor="middle">-0.02</text><text x="491.4" y="265.4" text-anchor="middle">-0.02</text><text x="504.2" y="169.4" text-anchor="middle">-0.04</text><text x="504.2" y="265.4" text-anchor="middle">-0.04</text><text x="517.0" y="169.4" text-anchor="middle">-0.06</text><text x="517.0" y="265.4" text-anchor="middle">-0.06</text><text x="484.2" y="166.3" text-anchor="middle" class="ax">x[m]</text><text x="484.2" y="269.2" text-anchor="middle" class="ax">x[m]</text><text x="427.1" y="217.5" text-anchor="end" class="ax">y[m]</text><text x="541.4" y="217.5" class="ax">y[m]</text></g>
<text class="ti" x="465.1" y="156.4" textLength="37.2" lengthAdjust="spacing">quasi-infinite</text>
<g><path d="M436.3 278.8h-8" stroke="#ff9a9a" stroke-width="0.5"/><path d="M436.3 278.8v-8.5" stroke="#f4f48a" stroke-width="0.5"/>
<rect x="426.7" y="278.2" width="2.2" height="1.1" fill="#e01020"/>
<rect x="435.6" y="269.2" width="1.5" height="1.6" fill="#c8d820"/>
<rect x="435.4" y="278.2" width="1.7" height="1.3" fill="#10c030"/>
<g class="tr"><text x="428.5" y="277.9">x</text><text x="437.2" y="270.2">y</text><text x="437.2" y="277.6">z</text></g></g>
<rect x="434.9" y="289.2" width="96.7" height="2.5" fill="url(#cb)"/>
<path d="M437.5 287.9v1.6M449.6 287.9v1.6M461.6 287.9v1.6M473.7 287.9v1.6M485.8 287.9v1.6M497.8 287.9v1.6M509.9 287.9v1.6M521.9 287.9v1.6M534.0 287.9v1.6" stroke="#444" stroke-width="0.4" fill="none"/>
<g class="cl"><text x="437.5" y="285.0" text-anchor="middle">0.003</text><text x="449.6" y="285.0" text-anchor="middle">0.0035</text><text x="461.6" y="285.0" text-anchor="middle">0.004</text><text x="473.7" y="285.0" text-anchor="middle">0.0045</text><text x="485.8" y="285.0" text-anchor="middle">0.005</text><text x="497.8" y="285.0" text-anchor="middle">0.0055</text><text x="509.9" y="285.0" text-anchor="middle">0.006</text><text x="521.9" y="285.0" text-anchor="middle">0.0065</text><text x="534.0" y="285.0" text-anchor="middle">0.007</text></g>
<text class="lt" x="486.3" y="280.5" text-anchor="middle"><tspan font-size="6.9">f</tspan><tspan class="sb" dy="1.2">z=4</tspan><tspan dy="-1.2" class="up">[</tspan>kPa<tspan class="up">]</tspan></text>
</svg>
</body></html>
